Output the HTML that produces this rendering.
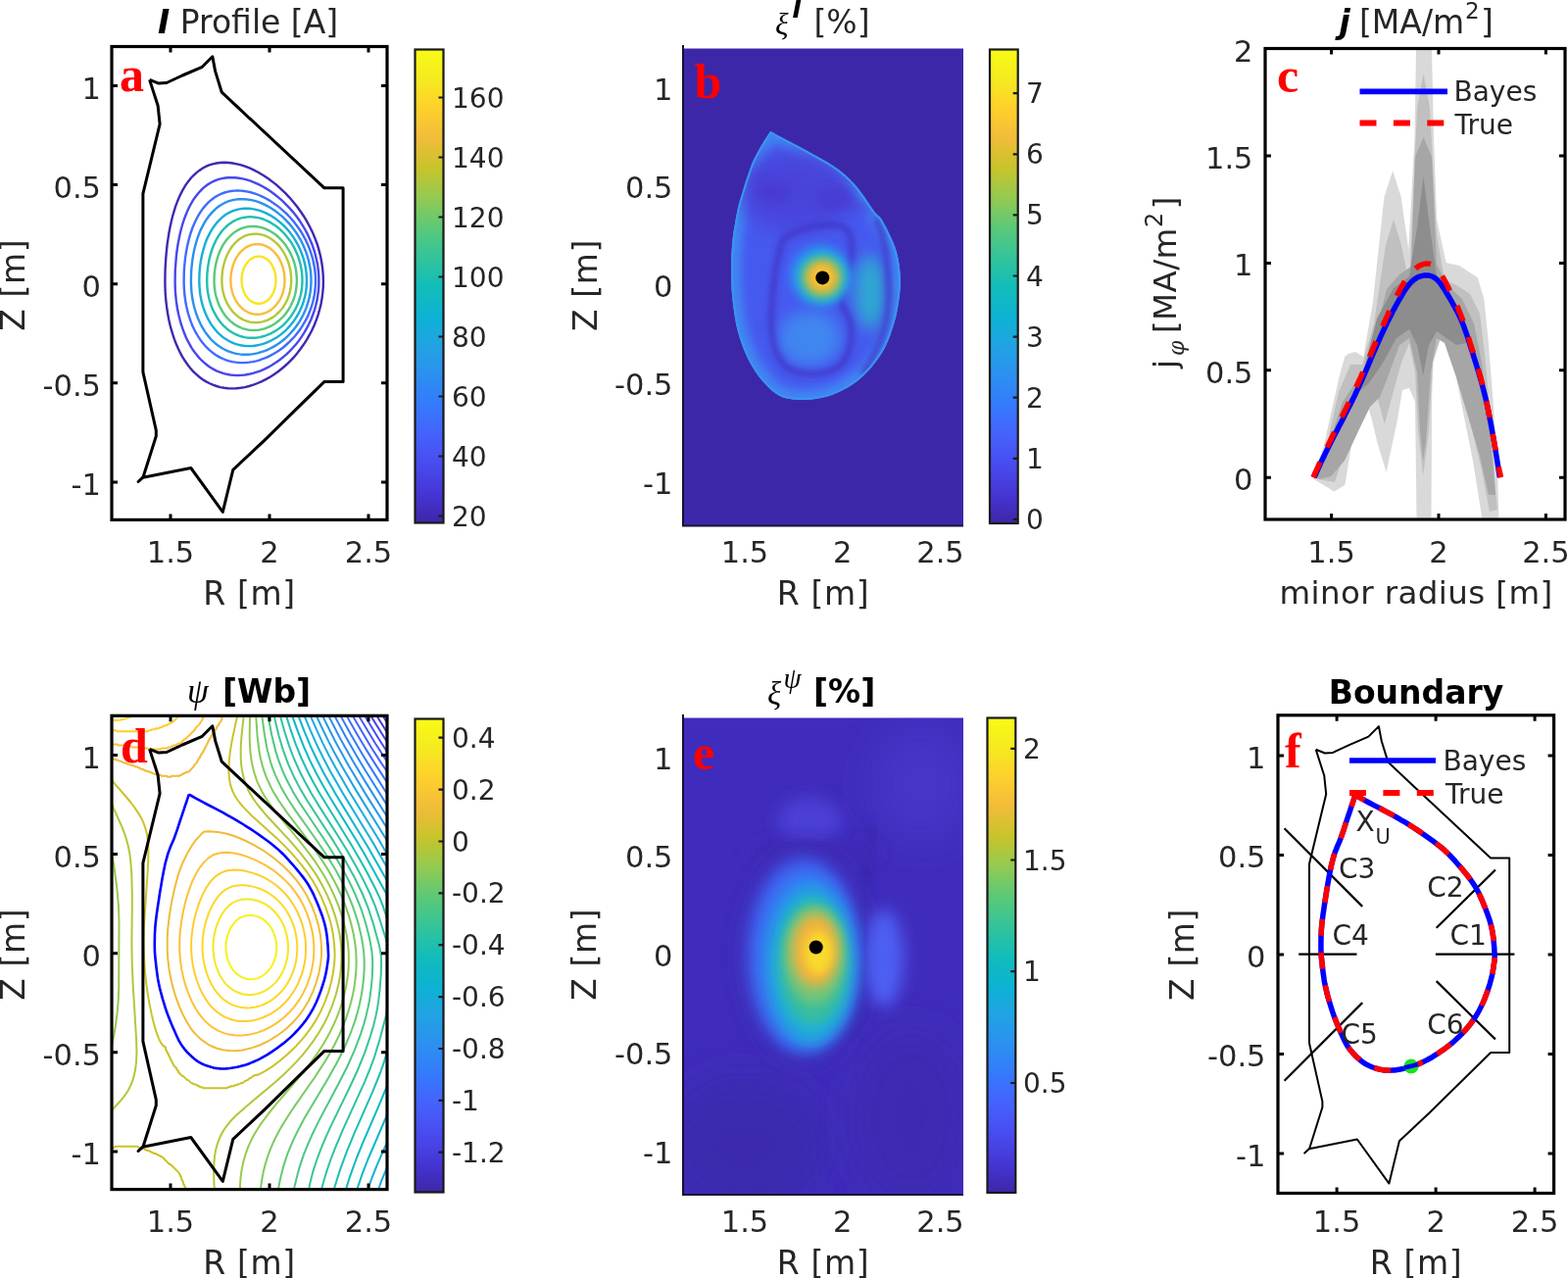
<!DOCTYPE html>
<html><head><meta charset="utf-8"><title>Figure</title>
<style>html,body{margin:0;padding:0;background:#fff;width:1600px;height:1304px;overflow:hidden}svg{display:block}</style>
</head><body>
<svg width="1600" height="1304" viewBox="0 0 1600 1304"><defs><linearGradient id="cba" x1="0" y1="1" x2="0" y2="0"><stop offset="0.0000" stop-color="#3e26a8"/><stop offset="0.0625" stop-color="#4536d5"/><stop offset="0.1250" stop-color="#484cef"/><stop offset="0.1875" stop-color="#4562fc"/><stop offset="0.2500" stop-color="#347afd"/><stop offset="0.3125" stop-color="#2c90f0"/><stop offset="0.3750" stop-color="#21a3e3"/><stop offset="0.4375" stop-color="#0cb3d3"/><stop offset="0.5000" stop-color="#12bdb9"/><stop offset="0.5625" stop-color="#34c499"/><stop offset="0.6250" stop-color="#5cc977"/><stop offset="0.6875" stop-color="#94ca51"/><stop offset="0.7500" stop-color="#c8c42a"/><stop offset="0.8125" stop-color="#f1bc3a"/><stop offset="0.8750" stop-color="#fed02c"/><stop offset="0.9375" stop-color="#f5ea20"/><stop offset="1.0000" stop-color="#f9fb15"/></linearGradient><clipPath id="clipd"><rect x="114" y="730.3" width="281" height="483.3"/></clipPath><linearGradient id="cbd" x1="0" y1="1" x2="0" y2="0"><stop offset="0.0000" stop-color="#3e26a8"/><stop offset="0.0625" stop-color="#4536d5"/><stop offset="0.1250" stop-color="#484cef"/><stop offset="0.1875" stop-color="#4562fc"/><stop offset="0.2500" stop-color="#347afd"/><stop offset="0.3125" stop-color="#2c90f0"/><stop offset="0.3750" stop-color="#21a3e3"/><stop offset="0.4375" stop-color="#0cb3d3"/><stop offset="0.5000" stop-color="#12bdb9"/><stop offset="0.5625" stop-color="#34c499"/><stop offset="0.6250" stop-color="#5cc977"/><stop offset="0.6875" stop-color="#94ca51"/><stop offset="0.7500" stop-color="#c8c42a"/><stop offset="0.8125" stop-color="#f1bc3a"/><stop offset="0.8750" stop-color="#fed02c"/><stop offset="0.9375" stop-color="#f5ea20"/><stop offset="1.0000" stop-color="#f9fb15"/></linearGradient><clipPath id="clipb"><path d="M786.2,133.8 L786.6,134.0 L786.8,134.2 L787.5,134.7 L789.1,135.6 L792.5,137.5 L798.2,140.5 L805.9,144.6 L814.4,149.1 L822.8,153.6 L830.0,157.5 L835.9,160.8 L841.2,163.7 L846.0,166.6 L850.6,169.4 L855.0,172.5 L859.1,175.7 L863.0,178.9 L866.5,182.2 L870.1,185.9 L873.8,190.0 L877.7,195.0 L881.9,200.8 L885.9,206.8 L889.5,212.1 L892.5,216.2 L894.5,218.6 L895.8,219.7 L896.7,220.2 L897.5,220.9 L898.8,222.5 L900.4,225.1 L902.1,228.2 L904.0,231.6 L905.8,235.2 L907.5,238.8 L909.1,242.3 L910.8,245.8 L912.3,249.5 L913.8,253.4 L915.0,257.5 L916.1,261.9 L917.0,266.6 L917.7,271.5 L918.3,276.3 L918.7,281.1 L918.9,285.6 L918.8,290.1 L918.6,294.5 L918.2,299.1 L917.6,304.0 L916.8,309.2 L915.9,314.7 L914.8,320.4 L913.4,326.1 L911.8,331.7 L910.0,337.3 L908.1,342.9 L905.8,348.5 L903.3,354.0 L900.3,359.4 L896.8,364.8 L892.9,370.1 L888.7,375.4 L884.2,380.3 L879.6,384.7 L874.9,388.7 L869.9,392.2 L864.8,395.5 L859.6,398.3 L854.3,400.8 L848.9,402.9 L843.4,404.7 L837.9,406.0 L832.3,407.1 L826.7,407.7 L821.0,408.0 L815.2,408.0 L809.4,407.6 L803.9,406.7 L799.0,405.4 L794.7,403.5 L790.9,401.1 L787.3,398.3 L784.0,395.1 L780.6,391.6 L777.2,387.7 L773.8,383.4 L770.5,378.7 L767.4,373.8 L764.5,368.6 L761.8,363.1 L759.3,357.3 L757.0,351.3 L754.9,345.0 L753.0,338.6 L751.4,332.0 L750.1,325.1 L749.0,318.1 L748.1,311.1 L747.3,304.1 L746.7,297.0 L746.4,289.8 L746.2,282.7 L746.1,275.9 L746.1,269.6 L746.2,263.9 L746.4,258.6 L746.8,253.6 L747.1,249.1 L747.5,245.0 L747.9,241.5 L748.2,238.7 L748.6,236.1 L749.1,233.5 L749.6,230.5 L750.2,227.0 L750.8,223.3 L751.5,219.4 L752.2,215.6 L753.0,212.0 L753.8,208.8 L754.5,206.0 L755.4,203.1 L756.4,199.9 L757.6,196.0 L759.1,191.1 L760.9,185.3 L762.9,179.3 L764.9,173.4 L766.8,168.3 L768.6,164.0 L770.4,160.2 L772.2,156.7 L774.1,153.4 L776.0,150.0 L778.1,146.4 L780.5,142.6 L782.8,139.0 L784.8,135.9 L786.2,133.8Z"/></clipPath><linearGradient id="cbb" x1="0" y1="1" x2="0" y2="0"><stop offset="0.0000" stop-color="#3e26a8"/><stop offset="0.0625" stop-color="#4536d5"/><stop offset="0.1250" stop-color="#484cef"/><stop offset="0.1875" stop-color="#4562fc"/><stop offset="0.2500" stop-color="#347afd"/><stop offset="0.3125" stop-color="#2c90f0"/><stop offset="0.3750" stop-color="#21a3e3"/><stop offset="0.4375" stop-color="#0cb3d3"/><stop offset="0.5000" stop-color="#12bdb9"/><stop offset="0.5625" stop-color="#34c499"/><stop offset="0.6250" stop-color="#5cc977"/><stop offset="0.6875" stop-color="#94ca51"/><stop offset="0.7500" stop-color="#c8c42a"/><stop offset="0.8125" stop-color="#f1bc3a"/><stop offset="0.8750" stop-color="#fed02c"/><stop offset="0.9375" stop-color="#f5ea20"/><stop offset="1.0000" stop-color="#f9fb15"/></linearGradient><clipPath id="clipe"><rect x="696.5" y="732.5" width="286.5" height="486.3"/></clipPath><filter id="bl3" x="-60%" y="-60%" width="220%" height="220%"><feGaussianBlur stdDeviation="3"/></filter><filter id="bl4" x="-60%" y="-60%" width="220%" height="220%"><feGaussianBlur stdDeviation="4"/></filter><filter id="bl5" x="-60%" y="-60%" width="220%" height="220%"><feGaussianBlur stdDeviation="5"/></filter><filter id="bl6" x="-60%" y="-60%" width="220%" height="220%"><feGaussianBlur stdDeviation="6"/></filter><filter id="bl8" x="-60%" y="-60%" width="220%" height="220%"><feGaussianBlur stdDeviation="8"/></filter><filter id="bl10" x="-60%" y="-60%" width="220%" height="220%"><feGaussianBlur stdDeviation="10"/></filter><filter id="bl14" x="-60%" y="-60%" width="220%" height="220%"><feGaussianBlur stdDeviation="14"/></filter><filter id="bl20" x="-60%" y="-60%" width="220%" height="220%"><feGaussianBlur stdDeviation="20"/></filter><linearGradient id="cbe" x1="0" y1="1" x2="0" y2="0"><stop offset="0.0000" stop-color="#3e26a8"/><stop offset="0.0625" stop-color="#4536d5"/><stop offset="0.1250" stop-color="#484cef"/><stop offset="0.1875" stop-color="#4562fc"/><stop offset="0.2500" stop-color="#347afd"/><stop offset="0.3125" stop-color="#2c90f0"/><stop offset="0.3750" stop-color="#21a3e3"/><stop offset="0.4375" stop-color="#0cb3d3"/><stop offset="0.5000" stop-color="#12bdb9"/><stop offset="0.5625" stop-color="#34c499"/><stop offset="0.6250" stop-color="#5cc977"/><stop offset="0.6875" stop-color="#94ca51"/><stop offset="0.7500" stop-color="#c8c42a"/><stop offset="0.8125" stop-color="#f1bc3a"/><stop offset="0.8750" stop-color="#fed02c"/><stop offset="0.9375" stop-color="#f5ea20"/><stop offset="1.0000" stop-color="#f9fb15"/></linearGradient><clipPath id="clipc"><rect x="1291" y="49.5" width="306" height="480.5"/></clipPath></defs><rect width="1600" height="1304" fill="#fff"/><path d="M329.9,287.0 L329.7,280.7 L329.2,274.3 L328.3,268.0 L327.1,261.8 L325.6,255.6 L323.8,249.5 L321.6,243.6 L319.2,237.7 L316.4,232.0 L313.4,226.4 L310.2,221.0 L306.7,215.8 L303.1,210.7 L299.2,205.9 L295.2,201.3 L291.0,196.9 L286.7,192.8 L282.4,188.9 L277.9,185.4 L273.4,182.0 L268.8,179.0 L264.2,176.3 L259.7,173.9 L255.1,171.7 L250.6,169.9 L246.1,168.4 L241.7,167.3 L237.4,166.5 L233.1,166.0 L229.0,165.8 L224.9,166.0 L221.0,166.5 L217.2,167.3 L213.5,168.4 L210.0,169.9 L206.6,171.7 L203.4,173.9 L200.3,176.3 L197.4,179.0 L194.6,182.0 L191.9,185.4 L189.4,188.9 L187.1,192.8 L184.9,196.9 L182.8,201.3 L180.9,205.9 L179.1,210.7 L177.5,215.8 L176.0,221.0 L174.7,226.4 L173.5,232.0 L172.4,237.7 L171.5,243.6 L170.6,249.5 L170.0,255.6 L169.4,261.8 L169.0,268.0 L168.6,274.3 L168.5,280.7 L168.4,287.0 L168.5,292.7 L168.7,298.4 L169.1,304.1 L169.7,309.7 L170.4,315.3 L171.3,320.8 L172.3,326.2 L173.5,331.5 L174.9,336.7 L176.4,341.7 L178.1,346.6 L179.9,351.3 L181.9,355.8 L184.0,360.2 L186.3,364.4 L188.8,368.3 L191.4,372.0 L194.1,375.5 L197.0,378.8 L200.0,381.7 L203.2,384.5 L206.5,386.9 L209.9,389.1 L213.5,391.0 L217.2,392.7 L221.0,394.0 L224.8,395.1 L228.8,395.8 L232.9,396.3 L237.0,396.4 L241.2,396.3 L245.5,395.8 L249.8,395.1 L254.2,394.0 L258.5,392.7 L262.9,391.0 L267.2,389.1 L271.6,386.9 L275.9,384.5 L280.1,381.7 L284.3,378.8 L288.3,375.5 L292.3,372.0 L296.1,368.3 L299.9,364.4 L303.4,360.2 L306.8,355.8 L310.0,351.3 L313.0,346.6 L315.8,341.7 L318.4,336.7 L320.8,331.5 L322.9,326.2 L324.7,320.8 L326.3,315.3 L327.6,309.7 L328.6,304.1 L329.3,298.4 L329.8,292.7Z" fill="none" stroke="#3f29b1" stroke-width="2.4"/>
<path d="M325.4,286.9 L325.3,281.4 L324.8,275.8 L324.1,270.3 L323.0,264.9 L321.7,259.5 L320.1,254.2 L318.3,249.0 L316.1,243.9 L313.8,238.9 L311.2,234.0 L308.4,229.3 L305.4,224.7 L302.2,220.3 L298.8,216.1 L295.3,212.1 L291.6,208.3 L287.9,204.7 L284.0,201.3 L280.1,198.2 L276.1,195.3 L272.0,192.6 L267.9,190.2 L263.9,188.1 L259.8,186.3 L255.7,184.7 L251.7,183.4 L247.7,182.4 L243.7,181.7 L239.9,181.2 L236.1,181.1 L232.4,181.2 L228.7,181.7 L225.2,182.4 L221.8,183.4 L218.6,184.7 L215.4,186.3 L212.3,188.1 L209.4,190.2 L206.6,192.6 L204.0,195.3 L201.5,198.2 L199.1,201.3 L196.8,204.7 L194.7,208.3 L192.7,212.1 L190.9,216.1 L189.2,220.3 L187.6,224.7 L186.1,229.3 L184.8,234.0 L183.6,238.9 L182.6,243.9 L181.6,249.0 L180.8,254.2 L180.1,259.5 L179.6,264.9 L179.2,270.3 L178.8,275.8 L178.7,281.4 L178.6,286.9 L178.7,291.9 L178.9,296.9 L179.3,301.9 L179.8,306.9 L180.5,311.8 L181.3,316.6 L182.3,321.3 L183.5,326.0 L184.7,330.5 L186.2,334.9 L187.8,339.2 L189.5,343.4 L191.4,347.4 L193.4,351.2 L195.5,354.8 L197.8,358.3 L200.3,361.6 L202.8,364.6 L205.5,367.5 L208.4,370.1 L211.3,372.5 L214.4,374.7 L217.6,376.6 L220.8,378.3 L224.2,379.7 L227.7,380.9 L231.3,381.8 L234.9,382.5 L238.7,382.9 L242.4,383.0 L246.3,382.9 L250.2,382.5 L254.1,381.8 L258.0,380.9 L261.9,379.7 L265.9,378.3 L269.8,376.6 L273.7,374.7 L277.5,372.5 L281.3,370.1 L285.0,367.5 L288.6,364.6 L292.2,361.6 L295.6,358.3 L298.9,354.8 L302.1,351.2 L305.1,347.4 L307.9,343.4 L310.6,339.2 L313.0,334.9 L315.3,330.5 L317.4,326.0 L319.2,321.3 L320.8,316.6 L322.2,311.8 L323.4,306.9 L324.2,301.9 L324.9,296.9 L325.3,291.9Z" fill="none" stroke="#4848ec" stroke-width="2.4"/>
<path d="M322.0,286.8 L321.9,281.9 L321.5,277.1 L320.8,272.3 L319.9,267.6 L318.8,262.9 L317.4,258.3 L315.8,253.7 L313.9,249.2 L311.9,244.9 L309.6,240.6 L307.2,236.5 L304.5,232.5 L301.7,228.7 L298.8,225.0 L295.7,221.5 L292.5,218.2 L289.1,215.1 L285.7,212.1 L282.2,209.4 L278.6,206.9 L275.0,204.6 L271.4,202.5 L267.7,200.6 L264.0,199.0 L260.3,197.6 L256.6,196.5 L253.0,195.6 L249.4,195.0 L245.9,194.6 L242.4,194.5 L239.0,194.6 L235.6,195.0 L232.3,195.6 L229.2,196.5 L226.1,197.6 L223.1,199.0 L220.2,200.6 L217.5,202.5 L214.8,204.6 L212.3,206.9 L209.9,209.4 L207.6,212.1 L205.4,215.1 L203.4,218.2 L201.5,221.5 L199.7,225.0 L198.0,228.7 L196.4,232.5 L195.0,236.5 L193.7,240.6 L192.6,244.9 L191.5,249.2 L190.6,253.7 L189.8,258.3 L189.1,262.9 L188.6,267.6 L188.1,272.3 L187.8,277.1 L187.7,281.9 L187.6,286.8 L187.7,291.1 L187.9,295.5 L188.3,299.8 L188.8,304.1 L189.4,308.3 L190.2,312.5 L191.2,316.6 L192.2,320.7 L193.5,324.6 L194.8,328.4 L196.3,332.2 L198.0,335.8 L199.7,339.2 L201.7,342.5 L203.7,345.7 L205.9,348.7 L208.2,351.5 L210.6,354.2 L213.1,356.7 L215.8,358.9 L218.5,361.0 L221.4,362.9 L224.3,364.6 L227.4,366.0 L230.6,367.3 L233.8,368.3 L237.1,369.1 L240.4,369.6 L243.9,370.0 L247.3,370.1 L250.9,370.0 L254.4,369.6 L258.0,369.1 L261.6,368.3 L265.1,367.3 L268.7,366.0 L272.3,364.6 L275.8,362.9 L279.2,361.0 L282.6,358.9 L286.0,356.7 L289.3,354.2 L292.4,351.5 L295.5,348.7 L298.4,345.7 L301.3,342.5 L303.9,339.2 L306.5,335.8 L308.8,332.2 L311.0,328.4 L313.1,324.6 L314.9,320.7 L316.5,316.6 L318.0,312.5 L319.2,308.3 L320.2,304.1 L321.0,299.8 L321.5,295.5 L321.9,291.1Z" fill="none" stroke="#406cfe" stroke-width="2.4"/>
<path d="M317.5,286.7 L317.4,282.3 L317.1,277.9 L316.5,273.6 L315.7,269.3 L314.7,265.0 L313.5,260.8 L312.1,256.7 L310.5,252.7 L308.7,248.7 L306.8,244.9 L304.6,241.2 L302.3,237.5 L299.9,234.1 L297.3,230.7 L294.6,227.6 L291.7,224.6 L288.8,221.7 L285.8,219.1 L282.7,216.6 L279.5,214.3 L276.3,212.2 L273.0,210.3 L269.7,208.7 L266.4,207.2 L263.1,205.9 L259.8,204.9 L256.5,204.1 L253.2,203.6 L250.0,203.2 L246.8,203.1 L243.6,203.2 L240.5,203.6 L237.5,204.1 L234.6,204.9 L231.7,205.9 L228.9,207.2 L226.2,208.7 L223.6,210.3 L221.1,212.2 L218.8,214.3 L216.5,216.6 L214.3,219.1 L212.2,221.7 L210.2,224.6 L208.4,227.6 L206.7,230.7 L205.0,234.1 L203.5,237.5 L202.2,241.2 L200.9,244.9 L199.8,248.7 L198.7,252.7 L197.8,256.7 L197.1,260.8 L196.4,265.0 L195.9,269.3 L195.4,273.6 L195.1,277.9 L195.0,282.3 L194.9,286.7 L195.0,290.6 L195.2,294.5 L195.5,298.4 L196.0,302.3 L196.6,306.1 L197.4,309.9 L198.3,313.6 L199.3,317.2 L200.5,320.8 L201.8,324.2 L203.2,327.6 L204.7,330.8 L206.4,333.9 L208.2,336.9 L210.1,339.8 L212.2,342.5 L214.3,345.1 L216.6,347.5 L218.9,349.7 L221.4,351.7 L224.0,353.6 L226.6,355.3 L229.4,356.8 L232.2,358.1 L235.1,359.2 L238.1,360.2 L241.1,360.9 L244.2,361.4 L247.4,361.7 L250.5,361.8 L253.8,361.7 L257.0,361.4 L260.2,360.9 L263.5,360.2 L266.7,359.2 L270.0,358.1 L273.2,356.8 L276.3,355.3 L279.4,353.6 L282.5,351.7 L285.5,349.7 L288.4,347.5 L291.3,345.1 L294.0,342.5 L296.6,339.8 L299.1,336.9 L301.5,333.9 L303.8,330.8 L305.9,327.6 L307.8,324.2 L309.6,320.8 L311.2,317.2 L312.7,313.6 L313.9,309.9 L315.0,306.1 L315.9,302.3 L316.6,298.4 L317.1,294.5 L317.4,290.6Z" fill="none" stroke="#2b91ef" stroke-width="2.4"/>
<path d="M313.0,286.6 L312.9,282.7 L312.6,278.8 L312.1,275.0 L311.5,271.2 L310.6,267.4 L309.6,263.7 L308.4,260.1 L307.1,256.5 L305.5,253.0 L303.9,249.6 L302.0,246.3 L300.1,243.1 L298.0,240.1 L295.7,237.1 L293.4,234.3 L291.0,231.7 L288.4,229.2 L285.8,226.8 L283.1,224.6 L280.3,222.6 L277.5,220.7 L274.7,219.1 L271.8,217.6 L268.9,216.3 L265.9,215.2 L263.0,214.3 L260.1,213.6 L257.1,213.1 L254.2,212.8 L251.4,212.7 L248.5,212.8 L245.8,213.1 L243.0,213.6 L240.3,214.3 L237.7,215.2 L235.2,216.3 L232.7,217.6 L230.3,219.1 L228.0,220.7 L225.8,222.6 L223.7,224.6 L221.6,226.8 L219.7,229.2 L217.9,231.7 L216.1,234.3 L214.5,237.1 L213.0,240.1 L211.5,243.1 L210.2,246.3 L209.0,249.6 L208.0,253.0 L207.0,256.5 L206.1,260.1 L205.4,263.7 L204.7,267.4 L204.2,271.2 L203.8,275.0 L203.5,278.8 L203.4,282.7 L203.3,286.6 L203.4,290.0 L203.6,293.5 L203.9,297.0 L204.3,300.4 L204.9,303.8 L205.6,307.1 L206.4,310.4 L207.4,313.6 L208.5,316.8 L209.7,319.8 L211.0,322.8 L212.4,325.7 L214.0,328.4 L215.6,331.1 L217.4,333.6 L219.3,336.0 L221.2,338.3 L223.3,340.4 L225.5,342.4 L227.7,344.2 L230.1,345.8 L232.5,347.3 L235.0,348.7 L237.6,349.8 L240.2,350.8 L242.9,351.6 L245.6,352.3 L248.4,352.7 L251.2,353.0 L254.1,353.1 L257.0,353.0 L259.8,352.7 L262.7,352.3 L265.6,351.6 L268.5,350.8 L271.4,349.8 L274.2,348.7 L277.0,347.3 L279.8,345.8 L282.5,344.2 L285.1,342.4 L287.7,340.4 L290.2,338.3 L292.6,336.0 L294.8,333.6 L297.0,331.1 L299.1,328.4 L301.1,325.7 L302.9,322.8 L304.6,319.8 L306.2,316.8 L307.6,313.6 L308.8,310.4 L309.9,307.1 L310.8,303.8 L311.6,300.4 L312.2,297.0 L312.7,293.5 L312.9,290.0Z" fill="none" stroke="#16afd9" stroke-width="2.4"/>
<path d="M308.5,286.4 L308.4,283.0 L308.2,279.6 L307.8,276.3 L307.2,272.9 L306.5,269.6 L305.7,266.3 L304.7,263.1 L303.5,259.9 L302.2,256.9 L300.8,253.9 L299.2,251.0 L297.6,248.2 L295.8,245.4 L293.9,242.9 L291.9,240.4 L289.8,238.0 L287.6,235.8 L285.4,233.7 L283.0,231.8 L280.6,230.0 L278.2,228.4 L275.7,226.9 L273.2,225.6 L270.7,224.5 L268.1,223.5 L265.5,222.7 L262.9,222.1 L260.4,221.7 L257.8,221.4 L255.3,221.3 L252.7,221.4 L250.2,221.7 L247.8,222.1 L245.4,222.7 L243.0,223.5 L240.7,224.5 L238.5,225.6 L236.3,226.9 L234.2,228.4 L232.2,230.0 L230.2,231.8 L228.3,233.7 L226.5,235.8 L224.8,238.0 L223.2,240.4 L221.7,242.9 L220.3,245.4 L219.0,248.2 L217.7,251.0 L216.6,253.9 L215.6,256.9 L214.7,259.9 L213.9,263.1 L213.2,266.3 L212.6,269.6 L212.1,272.9 L211.7,276.3 L211.4,279.6 L211.3,283.0 L211.2,286.4 L211.3,289.5 L211.4,292.5 L211.7,295.6 L212.1,298.6 L212.7,301.5 L213.3,304.5 L214.1,307.4 L215.0,310.2 L215.9,312.9 L217.0,315.6 L218.2,318.2 L219.6,320.7 L221.0,323.2 L222.5,325.5 L224.1,327.7 L225.8,329.8 L227.6,331.8 L229.5,333.7 L231.4,335.4 L233.5,337.0 L235.6,338.4 L237.8,339.8 L240.0,340.9 L242.3,341.9 L244.7,342.8 L247.1,343.5 L249.6,344.1 L252.0,344.5 L254.6,344.7 L257.1,344.8 L259.6,344.7 L262.2,344.5 L264.8,344.1 L267.3,343.5 L269.8,342.8 L272.4,341.9 L274.9,340.9 L277.3,339.8 L279.7,338.4 L282.1,337.0 L284.4,335.4 L286.6,333.7 L288.8,331.8 L290.9,329.8 L292.8,327.7 L294.7,325.5 L296.5,323.2 L298.2,320.7 L299.8,318.2 L301.3,315.6 L302.6,312.9 L303.8,310.2 L304.9,307.4 L305.8,304.5 L306.7,301.5 L307.3,298.6 L307.8,295.6 L308.2,292.5 L308.4,289.5Z" fill="none" stroke="#21bfaf" stroke-width="2.4"/>
<path d="M302.9,286.3 L302.8,283.4 L302.6,280.5 L302.3,277.7 L301.9,274.8 L301.3,272.0 L300.6,269.2 L299.7,266.5 L298.8,263.8 L297.7,261.2 L296.5,258.6 L295.2,256.1 L293.8,253.8 L292.3,251.4 L290.8,249.2 L289.1,247.1 L287.3,245.1 L285.5,243.3 L283.6,241.5 L281.7,239.8 L279.6,238.3 L277.6,236.9 L275.5,235.7 L273.3,234.6 L271.2,233.6 L269.0,232.8 L266.8,232.1 L264.5,231.6 L262.3,231.2 L260.1,231.0 L257.9,230.9 L255.7,231.0 L253.5,231.2 L251.4,231.6 L249.2,232.1 L247.2,232.8 L245.1,233.6 L243.1,234.6 L241.2,235.7 L239.3,236.9 L237.5,238.3 L235.8,239.8 L234.1,241.5 L232.5,243.3 L230.9,245.1 L229.5,247.1 L228.1,249.2 L226.8,251.4 L225.6,253.8 L224.5,256.1 L223.5,258.6 L222.5,261.2 L221.7,263.8 L221.0,266.5 L220.3,269.2 L219.8,272.0 L219.3,274.8 L219.0,277.7 L218.7,280.5 L218.6,283.4 L218.5,286.3 L218.6,289.0 L218.7,291.6 L219.0,294.3 L219.4,296.9 L219.8,299.4 L220.4,302.0 L221.1,304.5 L221.9,306.9 L222.8,309.3 L223.7,311.7 L224.8,313.9 L226.0,316.1 L227.2,318.2 L228.6,320.2 L230.0,322.2 L231.5,324.0 L233.1,325.7 L234.8,327.3 L236.5,328.8 L238.3,330.2 L240.2,331.5 L242.1,332.6 L244.1,333.6 L246.1,334.5 L248.2,335.3 L250.3,335.9 L252.5,336.4 L254.6,336.7 L256.8,336.9 L259.0,337.0 L261.2,336.9 L263.4,336.7 L265.6,336.4 L267.8,335.9 L270.0,335.3 L272.2,334.5 L274.3,333.6 L276.4,332.6 L278.5,331.5 L280.5,330.2 L282.5,328.8 L284.4,327.3 L286.2,325.7 L288.0,324.0 L289.7,322.2 L291.3,320.2 L292.8,318.2 L294.2,316.1 L295.6,313.9 L296.8,311.7 L297.9,309.3 L299.0,306.9 L299.9,304.5 L300.7,302.0 L301.3,299.4 L301.9,296.9 L302.3,294.3 L302.6,291.6 L302.8,289.0Z" fill="none" stroke="#59c979" stroke-width="2.4"/>
<path d="M297.2,286.2 L297.1,283.7 L297.0,281.2 L296.7,278.8 L296.4,276.3 L295.9,273.9 L295.3,271.5 L294.7,269.2 L293.9,266.9 L293.0,264.6 L292.1,262.4 L291.0,260.3 L289.9,258.2 L288.7,256.3 L287.4,254.4 L286.1,252.5 L284.7,250.8 L283.2,249.2 L281.6,247.7 L280.0,246.3 L278.4,245.0 L276.7,243.8 L275.0,242.7 L273.2,241.8 L271.4,240.9 L269.6,240.2 L267.8,239.6 L265.9,239.2 L264.1,238.9 L262.2,238.7 L260.3,238.6 L258.5,238.7 L256.7,238.9 L254.8,239.2 L253.1,239.6 L251.3,240.2 L249.6,240.9 L247.9,241.8 L246.2,242.7 L244.6,243.8 L243.0,245.0 L241.5,246.3 L240.1,247.7 L238.7,249.2 L237.3,250.8 L236.1,252.5 L234.9,254.4 L233.7,256.3 L232.7,258.2 L231.7,260.3 L230.8,262.4 L230.0,264.6 L229.2,266.9 L228.6,269.2 L228.0,271.5 L227.5,273.9 L227.1,276.3 L226.8,278.8 L226.6,281.2 L226.4,283.7 L226.4,286.2 L226.4,288.5 L226.6,290.7 L226.8,292.9 L227.1,295.1 L227.5,297.3 L228.1,299.5 L228.6,301.6 L229.3,303.7 L230.1,305.7 L230.9,307.7 L231.9,309.6 L232.9,311.4 L233.9,313.2 L235.1,314.9 L236.3,316.5 L237.6,318.1 L239.0,319.5 L240.4,320.9 L241.9,322.2 L243.4,323.4 L245.0,324.4 L246.7,325.4 L248.4,326.3 L250.1,327.0 L251.8,327.6 L253.6,328.2 L255.4,328.6 L257.2,328.9 L259.1,329.0 L260.9,329.1 L262.8,329.0 L264.6,328.9 L266.5,328.6 L268.3,328.2 L270.1,327.6 L271.9,327.0 L273.7,326.3 L275.5,325.4 L277.2,324.4 L278.8,323.4 L280.5,322.2 L282.0,320.9 L283.5,319.5 L285.0,318.1 L286.4,316.5 L287.7,314.9 L289.0,313.2 L290.1,311.4 L291.2,309.6 L292.2,307.7 L293.2,305.7 L294.0,303.7 L294.7,301.6 L295.4,299.5 L295.9,297.3 L296.4,295.1 L296.7,292.9 L297.0,290.7 L297.1,288.5Z" fill="none" stroke="#b3c838" stroke-width="2.4"/>
<path d="M290.5,286.1 L290.5,284.2 L290.3,282.2 L290.1,280.3 L289.9,278.4 L289.5,276.5 L289.1,274.7 L288.6,272.8 L288.0,271.1 L287.4,269.3 L286.7,267.6 L285.9,266.0 L285.1,264.4 L284.2,262.8 L283.2,261.3 L282.2,259.9 L281.1,258.6 L280.0,257.3 L278.8,256.2 L277.6,255.1 L276.4,254.1 L275.1,253.1 L273.7,252.3 L272.4,251.6 L271.0,250.9 L269.6,250.4 L268.2,249.9 L266.8,249.6 L265.3,249.3 L263.9,249.2 L262.5,249.1 L261.0,249.2 L259.6,249.3 L258.2,249.6 L256.8,249.9 L255.4,250.4 L254.0,250.9 L252.6,251.6 L251.3,252.3 L250.1,253.1 L248.8,254.1 L247.6,255.1 L246.4,256.2 L245.3,257.3 L244.2,258.6 L243.2,259.9 L242.3,261.3 L241.3,262.8 L240.5,264.4 L239.7,266.0 L239.0,267.6 L238.3,269.3 L237.7,271.1 L237.2,272.8 L236.7,274.7 L236.3,276.5 L236.0,278.4 L235.7,280.3 L235.5,282.2 L235.4,284.2 L235.4,286.1 L235.4,287.9 L235.5,289.7 L235.7,291.5 L236.0,293.3 L236.3,295.1 L236.7,296.8 L237.2,298.5 L237.7,300.2 L238.3,301.9 L239.0,303.5 L239.8,305.0 L240.6,306.5 L241.4,307.9 L242.3,309.3 L243.3,310.6 L244.4,311.9 L245.4,313.1 L246.6,314.2 L247.7,315.2 L249.0,316.2 L250.2,317.0 L251.5,317.8 L252.8,318.5 L254.2,319.1 L255.5,319.6 L256.9,320.0 L258.4,320.4 L259.8,320.6 L261.2,320.8 L262.7,320.8 L264.1,320.8 L265.5,320.6 L267.0,320.4 L268.4,320.0 L269.8,319.6 L271.2,319.1 L272.6,318.5 L273.9,317.8 L275.2,317.0 L276.5,316.2 L277.7,315.2 L278.9,314.2 L280.1,313.1 L281.2,311.9 L282.3,310.6 L283.3,309.3 L284.2,307.9 L285.1,306.5 L286.0,305.0 L286.7,303.5 L287.4,301.9 L288.1,300.2 L288.6,298.5 L289.1,296.8 L289.5,295.1 L289.9,293.3 L290.2,291.5 L290.3,289.7 L290.5,287.9Z" fill="none" stroke="#f8bd3c" stroke-width="2.4"/>
<path d="M281.5,286.0 L281.5,284.7 L281.4,283.4 L281.3,282.2 L281.1,280.9 L280.9,279.7 L280.6,278.5 L280.3,277.3 L280.0,276.1 L279.6,274.9 L279.2,273.8 L278.7,272.7 L278.2,271.7 L277.6,270.6 L277.0,269.7 L276.4,268.7 L275.7,267.9 L275.0,267.0 L274.3,266.3 L273.6,265.5 L272.8,264.9 L272.0,264.3 L271.1,263.7 L270.3,263.2 L269.4,262.8 L268.6,262.4 L267.7,262.1 L266.8,261.9 L265.9,261.7 L265.0,261.6 L264.1,261.6 L263.1,261.6 L262.2,261.7 L261.3,261.9 L260.4,262.1 L259.5,262.4 L258.7,262.8 L257.8,263.2 L257.0,263.7 L256.1,264.3 L255.3,264.9 L254.5,265.5 L253.8,266.3 L253.1,267.0 L252.4,267.9 L251.7,268.7 L251.1,269.7 L250.5,270.6 L249.9,271.7 L249.4,272.7 L248.9,273.8 L248.5,274.9 L248.1,276.1 L247.8,277.3 L247.5,278.5 L247.2,279.7 L247.0,280.9 L246.8,282.2 L246.7,283.4 L246.6,284.7 L246.6,286.0 L246.6,287.2 L246.7,288.5 L246.8,289.7 L247.0,290.9 L247.2,292.2 L247.5,293.4 L247.8,294.5 L248.1,295.7 L248.5,296.8 L248.9,297.9 L249.4,299.0 L249.9,300.0 L250.5,301.0 L251.1,301.9 L251.7,302.8 L252.4,303.7 L253.1,304.5 L253.8,305.3 L254.5,306.0 L255.3,306.6 L256.1,307.2 L257.0,307.7 L257.8,308.2 L258.7,308.6 L259.5,309.0 L260.4,309.3 L261.3,309.5 L262.2,309.7 L263.1,309.8 L264.1,309.8 L265.0,309.8 L265.9,309.7 L266.8,309.5 L267.7,309.3 L268.6,309.0 L269.4,308.6 L270.3,308.2 L271.1,307.7 L272.0,307.2 L272.8,306.6 L273.6,306.0 L274.3,305.3 L275.0,304.5 L275.7,303.7 L276.4,302.8 L277.0,301.9 L277.6,301.0 L278.2,300.0 L278.7,299.0 L279.2,297.9 L279.6,296.8 L280.0,295.7 L280.3,294.5 L280.6,293.4 L280.9,292.2 L281.1,290.9 L281.3,289.7 L281.4,288.5 L281.5,287.2Z" fill="none" stroke="#f7e522" stroke-width="2.4"/>
<path d="M152.6,81.4 L161.9,85.1 L170.0,84.5 L186.1,77.0 L206.3,68.3 L216.8,57.8 L219.7,72.9 L226.3,94.2 L244.7,111.4 L331.0,191.8 L350.1,191.8 L350.1,389.4 L331.0,389.4 L269.5,449.6 L237.8,479.4 L227.3,522.4 L194.8,477.5 L145.7,487.2 L141.1,491.5 L146.1,486.8 L159.3,445.0 L159.3,439.1 L145.9,379.7 L145.9,197.7 L163.1,126.7 L161.1,107.7 L152.6,81.4" fill="none" stroke="#000" stroke-width="3" stroke-linejoin="round"/>
<rect x="114" y="47.5" width="281" height="482.9" fill="none" stroke="#000" stroke-width="3.2"/>
<path d="M174.0,47.5v6M174.0,530.4v-6M275.0,47.5v6M275.0,530.4v-6M376.0,47.5v6M376.0,530.4v-6M114,491.9h6M395,491.9h-6M114,390.8h6M395,390.8h-6M114,289.7h6M395,289.7h-6M114,188.6h6M395,188.6h-6M114,87.5h6M395,87.5h-6" stroke="#000" stroke-width="3" fill="none"/>
<text x="174.0" y="573.5" font-size="30.5" text-anchor="middle" fill="#262626" font-weight="normal" font-style="normal" font-family="'DejaVu Sans', 'Liberation Sans', sans-serif" >1.5</text>
<text x="275.0" y="573.5" font-size="30.5" text-anchor="middle" fill="#262626" font-weight="normal" font-style="normal" font-family="'DejaVu Sans', 'Liberation Sans', sans-serif" >2</text>
<text x="376.0" y="573.5" font-size="30.5" text-anchor="middle" fill="#262626" font-weight="normal" font-style="normal" font-family="'DejaVu Sans', 'Liberation Sans', sans-serif" >2.5</text>
<text x="103.0" y="100.5" font-size="30.5" text-anchor="end" fill="#262626" font-weight="normal" font-style="normal" font-family="'DejaVu Sans', 'Liberation Sans', sans-serif" >1</text>
<text x="103.0" y="201.6" font-size="30.5" text-anchor="end" fill="#262626" font-weight="normal" font-style="normal" font-family="'DejaVu Sans', 'Liberation Sans', sans-serif" >0.5</text>
<text x="103.0" y="302.7" font-size="30.5" text-anchor="end" fill="#262626" font-weight="normal" font-style="normal" font-family="'DejaVu Sans', 'Liberation Sans', sans-serif" >0</text>
<text x="103.0" y="403.8" font-size="30.5" text-anchor="end" fill="#262626" font-weight="normal" font-style="normal" font-family="'DejaVu Sans', 'Liberation Sans', sans-serif" >-0.5</text>
<text x="103.0" y="504.9" font-size="30.5" text-anchor="end" fill="#262626" font-weight="normal" font-style="normal" font-family="'DejaVu Sans', 'Liberation Sans', sans-serif" >-1</text>
<text x="254.5" y="617.0" font-size="33" text-anchor="middle" fill="#262626" font-weight="normal" font-style="normal" font-family="'DejaVu Sans', 'Liberation Sans', sans-serif" letter-spacing="0.6">R [m]</text>
<text x="25.3" y="290.7" font-size="33" text-anchor="middle" fill="#262626" font-weight="normal" font-style="normal" font-family="'DejaVu Sans', 'Liberation Sans', sans-serif" letter-spacing="0.6" transform="rotate(-90 25.3 290.7)">Z [m]</text>
<text x="161" y="33.75" font-size="33" font-family="'DejaVu Sans', 'Liberation Sans', sans-serif" fill="#000"><tspan font-weight="bold" font-style="italic">I</tspan><tspan fill="#262626"> Profile [A]</tspan></text>
<text x="122.0" y="93.0" font-size="50" text-anchor="start" fill="#ff0000" font-weight="bold" font-style="normal" font-family="'Liberation Serif', 'DejaVu Serif', serif" >a</text>
<rect x="423.5" y="50.5" width="29.0" height="483.0" fill="url(#cba)" stroke="#1a1a1a" stroke-width="2.2"/>
<path d="M452.5,526.5h-5M452.5,465.5h-5M452.5,404.5h-5M452.5,343.5h-5M452.5,282.5h-5M452.5,221.5h-5M452.5,160.5h-5M452.5,99.5h-5" stroke="#1a1a1a" stroke-width="2.2"/>
<text x="461.0" y="536.5" font-size="28" text-anchor="start" fill="#262626" font-weight="normal" font-style="normal" font-family="'DejaVu Sans', 'Liberation Sans', sans-serif" >20</text>
<text x="461.0" y="475.5" font-size="28" text-anchor="start" fill="#262626" font-weight="normal" font-style="normal" font-family="'DejaVu Sans', 'Liberation Sans', sans-serif" >40</text>
<text x="461.0" y="414.5" font-size="28" text-anchor="start" fill="#262626" font-weight="normal" font-style="normal" font-family="'DejaVu Sans', 'Liberation Sans', sans-serif" >60</text>
<text x="461.0" y="353.5" font-size="28" text-anchor="start" fill="#262626" font-weight="normal" font-style="normal" font-family="'DejaVu Sans', 'Liberation Sans', sans-serif" >80</text>
<text x="461.0" y="292.5" font-size="28" text-anchor="start" fill="#262626" font-weight="normal" font-style="normal" font-family="'DejaVu Sans', 'Liberation Sans', sans-serif" >100</text>
<text x="461.0" y="231.5" font-size="28" text-anchor="start" fill="#262626" font-weight="normal" font-style="normal" font-family="'DejaVu Sans', 'Liberation Sans', sans-serif" >120</text>
<text x="461.0" y="170.5" font-size="28" text-anchor="start" fill="#262626" font-weight="normal" font-style="normal" font-family="'DejaVu Sans', 'Liberation Sans', sans-serif" >140</text>
<text x="461.0" y="109.5" font-size="28" text-anchor="start" fill="#262626" font-weight="normal" font-style="normal" font-family="'DejaVu Sans', 'Liberation Sans', sans-serif" >160</text>
<g clip-path="url(#clipd)" fill="none" stroke-width="2" stroke-linejoin="round">
<path d="M396.2,739.3 390.5,730.1" stroke="#4330c5"/>
<path d="M396.2,749.2 384.3,730.1" stroke="#4539d9"/>
<path d="M396.2,759.1 378.2,730.1" stroke="#4743e7"/>
<path d="M396.2,769.0 386.1,753.2 372.0,730.1" stroke="#484df1"/>
<path d="M396.2,779.0 383.1,758.7 365.9,730.1" stroke="#4758f8"/>
<path d="M396.2,788.9 389.1,778.6 380.0,764.5 370.3,748.3 359.7,730.1" stroke="#4562fc"/>
<path d="M396.2,800.3 382.1,778.4 374.0,765.4 364.4,749.3 353.5,730.1" stroke="#3f6dfe"/>
<path d="M396.2,812.0 376.5,780.6 368.5,767.5 357.9,749.3 347.4,730.1" stroke="#3579fd"/>
<path d="M396.2,823.6 373.2,786.7 363.9,771.3 352.8,751.7 341.2,730.1" stroke="#2e84f9"/>
<path d="M396.2,835.3 372.0,796.4 359.5,775.6 347.0,753.3 335.1,730.1" stroke="#2c8ef2"/>
<path d="M396.2,847.0 373.5,810.9 355.3,780.6 342.0,756.3 328.9,730.1" stroke="#2797eb"/>
<path d="M395.5,1215.3 396.2,1213.5M396.2,860.0 391.7,852.4 363.6,806.9 349.3,782.6 342.1,769.5 335.6,757.1 329.3,744.2 322.7,730.1" stroke="#23a0e5"/>
<path d="M385.5,1215.3 389.5,1204.2 396.2,1188.3M396.2,873.6 386.4,856.4 356.6,807.9 342.7,783.8 336.0,771.5 329.4,758.4 323.3,745.2 316.6,730.1" stroke="#1da9e0"/>
<path d="M374.6,1215.3 379.8,1201.2 384.6,1189.1 390.3,1175.9 396.2,1163.1M396.2,887.3 381.0,860.5 349.6,808.9 336.3,785.7 329.4,772.5 323.0,759.4 316.7,745.2 310.4,730.1" stroke="#13b0d7"/>
<path d="M363.7,1215.3 369.2,1199.2 375.0,1184.0 396.2,1134.8M396.2,900.9 375.0,863.5 343.0,810.9 330.3,788.7 323.1,774.5 316.9,761.4 310.5,746.2 304.3,730.1" stroke="#04b6cc"/>
<path d="M352.8,1215.3 354.0,1210.3 356.8,1201.2 364.1,1181.0 370.3,1165.8 386.5,1128.4 396.2,1105.0M396.2,916.5 394.3,912.0 371.4,870.6 361.2,853.4 335.7,812.0 329.2,800.8 323.1,789.7 316.1,775.6 309.8,761.4 304.2,747.2 298.1,730.1" stroke="#06bbc0"/>
<path d="M340.2,1215.3 346.8,1194.1 353.9,1174.9 361.0,1157.7 380.0,1114.4 387.9,1095.0 391.8,1083.9 396.2,1068.2M396.2,940.8 391.0,925.2 387.5,916.1 382.7,906.0 374.3,889.8 366.9,876.4 358.8,862.5 326.4,809.9 319.5,797.8 313.2,785.7 307.5,773.5 302.1,760.4 297.1,746.2 292.0,730.1" stroke="#1cbfb3"/>
<path d="M327.5,1215.3 330.9,1203.2 334.0,1193.1 337.5,1183.0 341.8,1171.9 349.9,1152.7 372.0,1104.1 377.4,1091.0 382.1,1078.3 388.1,1058.6 394.1,1035.4 395.0,1029.3 396.2,1013.9M396.2,965.1 393.6,957.5 386.2,934.3 382.7,924.2 377.6,912.0 370.8,897.9 362.7,882.7 353.8,867.2 344.7,852.5 326.0,823.1 318.0,809.9 311.2,797.8 305.1,785.7 299.7,773.5 294.8,760.4 290.3,746.2 285.8,730.1" stroke="#2dc2a4"/>
<path d="M314.9,1215.3 316.1,1208.3 319.2,1196.1 323.1,1184.0 327.6,1171.9 332.3,1160.7 337.3,1149.6 356.8,1109.5 364.9,1092.0 372.0,1074.6 378.1,1056.6 381.1,1046.5 383.3,1037.4 385.0,1029.3 386.2,1021.2 387.6,1009.1 388.7,994.9 389.1,983.8 388.9,975.7 388.2,970.7 386.9,964.6 380.9,942.4 375.6,926.2 369.8,912.0 361.6,894.9 351.5,876.7 340.7,858.9 313.5,817.0 306.4,804.9 300.5,793.8 294.1,779.6 288.9,765.4 284.4,750.3 279.6,730.1" stroke="#38c594"/>
<path d="M299.4,1215.3 303.1,1200.2 306.2,1189.1 310.0,1177.9 314.9,1165.8 319.5,1155.7 324.9,1144.6 345.7,1105.3 354.0,1089.0 361.9,1071.3 368.2,1054.6 371.1,1045.5 373.6,1036.4 375.7,1027.3 377.4,1018.2 378.7,1008.1 379.8,997.0 380.2,986.9 380.1,978.8 379.5,971.7 378.4,964.6 376.8,956.5 374.6,947.4 372.0,938.3 369.4,930.2 366.4,922.1 363.1,914.1 359.0,905.0 354.5,895.9 349.6,886.8 344.3,877.7 333.5,860.5 305.7,819.0 298.4,806.9 292.6,795.8 289.3,788.7 286.4,781.6 283.8,774.5 281.3,766.5 277.3,750.3 273.5,730.1" stroke="#49c884"/>
<path d="M284.1,1215.3 284.4,1211.3 285.7,1204.2 289.2,1190.1 293.5,1176.9 299.0,1163.8 304.4,1152.7 310.9,1140.5 334.6,1100.8 343.7,1084.5 348.1,1075.8 352.5,1066.7 355.9,1058.6 359.1,1050.5 362.3,1041.4 364.9,1032.6 367.0,1024.3 368.8,1015.2 370.2,1006.1 371.2,997.0 371.7,987.9 371.7,979.8 371.2,971.7 370.0,962.6 368.3,953.5 365.9,943.4 363.2,934.3 359.7,924.2 356.1,915.1 351.5,905.0 347.5,896.9 343.1,888.8 333.3,872.6 323.5,858.0 301.6,827.1 293.6,815.0 286.6,802.9 280.9,790.7 278.5,784.7 276.1,777.6 272.6,764.4 270.0,750.2 267.3,730.1" stroke="#61ca74"/>
<path d="M265.9,1215.3 266.3,1210.3 267.5,1202.2 268.9,1195.1 270.7,1188.0 272.8,1181.0 275.4,1173.9 278.3,1166.8 281.2,1160.7 286.6,1150.6 294.1,1138.5 301.5,1127.4 321.5,1098.8 332.4,1081.9 337.1,1073.8 341.7,1065.3 345.7,1057.1 349.5,1048.5 352.8,1040.1 355.7,1031.3 358.0,1023.2 360.2,1014.2 361.8,1005.1 362.8,997.0 363.5,987.9 363.6,979.8 363.2,970.7 362.2,961.6 360.6,952.5 358.5,943.4 355.6,933.3 352.5,924.2 348.4,914.1 344.2,905.0 340.0,896.9 335.6,889.0 330.5,880.8 325.5,873.1 314.4,857.5 292.9,829.1 284.5,817.0 280.7,810.9 277.3,804.9 272.1,793.8 269.8,787.7 267.6,780.6 265.8,773.5 264.5,766.5 262.6,751.3 261.2,730.1" stroke="#7bcb62"/>
<path d="M245.1,1215.3 244.9,1209.3 245.6,1201.2 246.7,1193.1 248.5,1185.0 250.5,1177.9 253.0,1170.9 256.1,1163.8 259.3,1157.7 265.6,1147.6 273.8,1136.5 282.0,1126.4 305.3,1099.2 312.4,1090.4 318.4,1082.4 324.5,1073.8 330.3,1064.7 335.5,1055.6 339.6,1047.3 343.2,1039.4 346.3,1031.3 349.0,1023.2 351.2,1015.2 353.2,1006.1 354.6,998.0 355.5,989.9 355.9,981.8 355.8,972.7 355.0,962.6 353.6,953.5 351.4,943.4 348.8,934.3 345.4,924.2 341.2,914.1 336.6,904.4 332.6,896.8 327.8,888.8 322.6,880.7 316.9,872.6 305.3,857.6 282.7,830.1 274.4,819.0 270.4,813.0 267.5,807.9 264.4,801.8 262.2,796.8 260.1,790.7 258.1,783.6 256.7,776.6 255.7,769.5 255.0,761.4 254.7,753.3 255.0,730.1M113.4,868.8 114.3,871.6 116.0,881.7 119.2,905.0 121.0,925.2 121.5,940.3 121.2,1007.1 120.8,1019.2 119.6,1033.4 117.9,1046.5 116.0,1057.6 113.4,1069.8" stroke="#96ca4e"/>
<path d="M219.0,1215.3 218.4,1207.3 218.1,1196.1 218.4,1187.0 219.0,1180.0 220.0,1173.9 221.6,1167.8 223.8,1161.8 226.2,1156.7 229.3,1151.6 232.3,1147.6 236.6,1142.5 241.6,1137.5 250.7,1129.4 281.1,1104.0 289.1,1096.8 296.2,1089.9 302.3,1083.6 308.3,1076.8 314.4,1069.4 319.4,1062.6 325.5,1053.5 330.7,1044.5 335.2,1035.4 339.3,1025.3 342.7,1015.1 345.5,1004.0 347.3,993.9 348.3,983.8 348.6,974.7 348.1,964.6 346.8,954.5 344.7,944.4 341.9,934.3 338.4,924.2 334.2,914.1 329.2,904.0 324.7,895.9 320.2,888.8 314.4,880.6 307.3,871.4 295.2,857.1 271.1,831.2 262.7,821.0 259.1,816.0 255.9,810.9 253.2,805.9 251.0,800.8 248.9,794.8 247.3,787.7 246.2,780.6 245.7,772.5 245.7,763.4 246.2,754.3 247.3,743.2 248.8,730.1M113.4,818.4 116.1,825.1 124.3,843.3 128.1,853.4 129.9,859.5 131.3,865.5 132.4,871.6 133.3,878.7 134.3,892.8 134.8,910.0 134.8,927.2 134.4,961.6 134.7,981.8 135.7,1005.1 139.1,1060.7 139.5,1073.8 139.0,1083.9 138.0,1092.0 136.1,1100.1 133.6,1106.9 130.4,1113.2 126.5,1118.9 122.5,1123.8 113.4,1133.6" stroke="#b0c83a"/>
<path d="M189.3,1215.3 189.3,1214.3 190.2,1213.3 189.1,1212.3 189.1,1211.3 188.1,1210.3 188.1,1209.3 187.1,1208.3 187.1,1206.2 186.1,1205.2 186.1,1204.2 185.1,1203.2 185.1,1201.2 184.1,1200.2 184.1,1199.2 183.1,1198.2 183.1,1197.1 174.0,1188.0 173.0,1188.0 164.9,1180.0 163.9,1180.0 162.9,1178.9 161.9,1178.9 160.9,1177.9 159.9,1177.9 158.9,1176.9 156.8,1176.9 155.8,1175.9 154.8,1175.9 153.8,1174.9 152.8,1174.9 151.8,1173.9 149.8,1173.9 148.8,1172.9 147.7,1172.9 146.7,1171.9 144.7,1171.9 143.7,1170.9 141.7,1170.9 140.7,1169.8 117.4,1169.8 116.4,1170.9 115.4,1170.9 113.4,1171.9M113.4,794.4 115.4,797.6 117.4,800.2 127.8,812.0 133.6,819.0 137.4,824.1 140.9,829.1 144.4,835.2 146.7,840.3 148.8,846.3 150.2,852.4 151.3,861.5 151.4,873.6 150.6,890.8 146.9,945.4 146.6,962.6 147.1,978.8 147.9,990.9 149.1,1002.0 150.6,1013.1 152.5,1024.3 154.8,1035.4 157.0,1044.5 159.4,1052.6 162.0,1059.6 163.5,1062.7 165.3,1065.7 166.9,1067.5 167.9,1067.7 169.0,1068.7 169.0,1070.8 170.0,1071.8 170.0,1072.8 171.0,1073.8 171.0,1074.8 172.0,1075.8 172.0,1076.8 173.0,1077.8 173.0,1078.9 174.0,1079.9 174.0,1080.9 175.0,1081.9 175.0,1082.9 176.0,1083.9 176.0,1084.9 177.0,1085.9 177.0,1086.9 180.1,1090.0 180.1,1091.0 182.1,1093.0 182.1,1094.0 186.1,1098.1 187.1,1098.1 191.2,1102.1 192.2,1102.1 195.2,1105.1 196.2,1105.1 197.2,1106.2 199.2,1106.2 200.3,1107.2 201.3,1107.2 202.3,1108.2 203.3,1108.2 204.3,1109.2 206.3,1109.2 207.3,1110.2 231.6,1110.2 232.6,1109.2 234.6,1109.2 235.6,1108.2 238.6,1108.2 239.6,1107.2 241.7,1107.2 242.7,1106.2 244.7,1106.2 245.7,1105.1 247.7,1105.1 249.8,1103.1 250.8,1103.1 251.8,1102.1 252.8,1102.1 254.8,1100.1 255.8,1100.1 257.8,1098.1 258.8,1098.1 259.8,1097.1 261.9,1097.0 263.9,1096.3 271.0,1092.7 278.0,1088.1 285.1,1082.8 294.2,1075.0 302.3,1067.2 309.9,1058.6 316.4,1050.2 322.1,1041.4 327.1,1032.3 331.2,1023.2 334.9,1013.1 337.8,1003.0 339.9,992.9 341.3,981.8 341.6,972.7 341.1,963.6 339.9,953.5 338.1,944.4 335.9,936.3 332.4,926.2 327.8,915.1 323.3,906.0 318.6,897.9 313.4,890.2 307.3,882.2 300.2,873.7 293.2,865.9 282.1,854.9 256.8,832.2 247.9,823.1 244.5,819.0 241.5,815.0 239.1,810.9 237.2,806.9 235.1,800.8 233.9,793.8 233.4,786.7 233.7,777.6 234.8,767.5 236.6,756.3 240.9,736.1 241.9,732.1 242.7,730.1" stroke="#c8c42a"/>
<path d="M213.4,848.3 208.3,848.5 205.3,851.2 202.3,854.4 199.2,858.0 196.2,862.2 191.7,869.6 186.7,879.7 183.8,886.8 180.9,895.9 177.8,908.0 175.0,921.1 172.7,935.3 171.3,947.4 170.7,957.5 170.7,968.7 171.3,978.8 172.7,989.9 174.4,999.0 176.6,1008.1 179.7,1018.2 183.1,1027.3 186.7,1035.4 191.2,1043.8 195.2,1050.0 199.2,1054.9 204.3,1059.9 210.4,1064.4 215.4,1067.3 221.5,1069.7 227.5,1071.3 233.6,1072.1 240.7,1072.2 247.7,1071.4 255.8,1069.6 264.9,1066.5 274.0,1062.1 282.1,1057.2 290.2,1051.2 297.6,1044.5 304.3,1037.1 310.0,1029.3 314.9,1021.2 319.2,1012.1 322.9,1002.0 325.6,991.9 327.2,982.8 328.1,973.7 327.9,963.6 326.8,953.5 324.7,943.4 322.0,934.3 317.7,923.2 313.2,914.1 308.3,906.0 302.4,897.9 296.2,890.8 288.1,882.7 280.0,875.9 270.0,868.7 259.8,862.7 248.7,857.0 239.6,853.3 230.6,850.5 222.5,848.9 213.4,848.3M113.4,773.9 114.4,773.5 115.4,774.5 117.4,774.5 118.4,775.6 120.5,775.6 121.5,776.6 123.5,776.6 124.5,777.6 125.5,777.6 126.5,778.6 128.5,778.6 129.6,779.6 131.6,779.6 132.6,780.6 134.6,780.6 135.6,781.6 137.6,781.6 138.6,782.6 140.7,782.6 141.7,783.6 142.7,783.6 143.7,784.7 145.7,784.7 146.7,785.7 147.7,785.7 148.8,786.7 150.8,786.7 151.8,787.7 153.8,787.7 154.8,788.7 155.8,788.7 156.8,789.7 158.9,789.7 159.9,790.7 163.9,790.7 164.9,791.7 170.0,791.7 171.0,792.7 174.0,792.7 175.0,791.7 183.1,791.7 184.1,790.7 185.1,790.7 186.1,789.7 187.1,789.7 188.1,788.7 189.1,788.7 190.2,787.7 192.2,787.7 198.2,781.6 198.2,780.6 201.3,777.6 201.3,776.6 202.3,775.6 202.3,774.5 204.3,772.5 204.3,771.5 205.3,770.5 205.3,769.5 207.3,767.5 207.3,766.5 208.3,765.4 208.3,764.4 209.4,763.4 209.4,762.4 210.4,761.4 210.4,760.4 211.4,759.4 211.4,758.4 212.4,757.4 212.4,756.3 213.4,755.3 213.4,754.3 215.4,752.3 215.4,751.3 216.4,750.3 216.4,749.3 218.4,747.2 218.4,746.2 220.5,744.2 220.5,743.2 221.5,742.2 221.5,741.2 223.5,739.2 223.5,738.1 225.5,736.1 225.5,735.1 226.5,734.1 226.5,733.1 226.4,732.1 225.5,730.9 225.2,730.1" stroke="#efbc39"/>
<path d="M238.6,870.5 232.6,869.8 227.5,869.9 222.5,870.7 217.4,872.3 212.5,875.6 208.3,879.6 204.3,884.6 200.3,891.1 196.4,898.9 192.9,908.0 189.8,918.1 187.1,929.2 185.1,940.3 183.8,950.5 183.2,960.6 183.3,970.7 184.0,979.8 185.3,988.9 187.2,998.0 189.5,1006.1 192.4,1014.2 195.9,1022.2 199.7,1029.3 203.8,1035.4 207.9,1040.4 212.4,1044.8 217.4,1048.7 222.5,1051.6 228.5,1054.1 234.1,1055.6 240.7,1056.5 246.7,1056.5 253.8,1055.8 261.9,1053.9 268.9,1051.3 276.0,1047.8 283.1,1043.4 289.1,1038.7 295.2,1033.0 300.2,1027.3 305.3,1020.3 309.3,1013.4 312.8,1006.1 315.8,998.0 318.2,988.9 319.6,980.8 320.3,972.7 320.3,964.6 319.6,956.5 318.2,948.4 316.1,940.3 313.3,932.3 309.8,924.2 305.9,917.1 301.3,910.1 296.2,903.7 290.2,897.4 284.1,892.0 278.0,887.4 271.0,882.9 262.9,878.6 254.8,875.1 246.7,872.3 238.6,870.5M113.4,759.4 119.5,759.4 120.5,760.4 126.5,760.4 127.5,761.4 133.6,761.4 134.6,762.4 142.7,762.4 143.7,763.4 150.8,763.4 151.8,764.4 163.9,764.4 164.9,763.4 171.0,763.4 172.0,762.4 174.0,762.4 175.0,761.4 176.0,761.4 177.0,760.4 179.0,760.4 180.1,759.4 181.1,759.4 182.1,758.4 184.1,758.4 188.1,754.3 189.1,754.3 199.2,744.2 199.2,743.2 204.3,738.1 204.3,737.1 206.3,735.1 206.3,734.1 207.3,733.1 207.3,732.1 206.3,731.4 205.7,730.1" stroke="#fdc136"/>
<path d="M243.7,887.7 238.6,887.5 233.6,888.0 228.5,889.3 224.5,891.1 220.5,893.8 217.1,896.9 213.4,901.3 210.3,906.0 206.6,913.1 203.6,920.1 200.9,928.2 198.4,937.3 196.7,946.4 195.6,954.5 195.1,962.6 195.2,970.7 195.9,978.8 197.0,985.8 198.6,992.9 200.7,1000.0 203.4,1007.1 206.3,1013.3 209.7,1019.2 213.3,1024.3 216.8,1028.3 220.5,1031.8 224.5,1034.8 229.5,1037.7 234.6,1039.8 239.6,1041.2 244.7,1041.9 250.8,1042.1 256.8,1041.5 262.9,1040.1 268.9,1038.0 275.0,1035.1 281.1,1031.4 286.1,1027.5 291.2,1022.7 295.2,1018.0 299.2,1012.4 302.9,1006.1 305.7,1000.0 308.3,992.9 310.2,985.8 311.4,978.8 312.0,971.7 312.0,964.6 311.5,957.5 310.3,950.5 308.5,943.4 306.0,936.3 302.9,929.2 299.5,923.2 295.3,917.1 291.2,912.1 286.1,907.0 281.1,902.8 276.0,899.2 270.0,895.7 263.9,892.9 256.8,890.4 249.8,888.6 243.7,887.7M113.4,745.5 114.4,745.2 118.4,745.2 119.5,746.2 150.8,746.2 151.8,745.2 153.8,745.2 154.8,744.2 157.8,744.2 158.9,743.2 161.9,743.2 162.9,742.2 164.9,742.2 165.9,741.2 166.9,741.2 167.9,740.2 170.0,740.2 171.0,739.2 172.0,739.2 173.0,738.1 174.0,738.1 175.0,737.1 176.0,737.1 181.1,732.1 181.1,731.1 180.1,730.1" stroke="#fecd2d"/>
<path d="M254.8,903.9 249.8,903.3 244.7,903.2 240.7,903.7 236.6,904.6 232.6,906.3 229.5,908.1 225.9,911.0 222.5,914.8 219.4,919.1 216.4,924.3 213.7,930.2 211.4,936.3 209.6,942.4 208.0,949.4 207.0,956.5 206.6,962.6 206.5,968.7 207.0,974.7 207.8,980.8 209.1,986.9 210.9,992.9 213.2,999.0 215.6,1004.0 218.6,1009.1 221.6,1013.1 225.2,1017.2 228.5,1020.1 232.6,1022.9 236.6,1025.1 241.7,1026.9 245.7,1027.8 250.8,1028.4 255.8,1028.2 260.9,1027.5 265.9,1026.1 270.0,1024.5 275.0,1021.8 279.0,1019.1 283.1,1015.8 287.1,1011.8 290.2,1008.1 293.6,1003.0 296.3,998.0 298.5,992.9 300.3,987.9 301.8,981.8 302.8,975.7 303.3,969.7 303.2,963.6 302.6,957.5 301.5,951.5 300.2,946.4 298.2,940.9 295.7,935.3 293.2,930.7 290.2,926.2 286.9,922.1 283.0,918.1 279.0,914.7 274.0,911.2 270.0,909.0 264.9,906.7 259.8,905.1 254.8,903.9M113.4,733.5 115.4,734.5 117.4,734.9 122.5,734.7 125.6,734.1 129.6,732.9 132.6,731.7 135.6,730.1" stroke="#fbd927"/>
<path d="M257.8,918.0 253.8,917.6 249.8,917.6 245.7,918.1 242.7,918.9 239.6,920.0 236.6,921.7 233.6,924.1 231.4,926.2 228.5,929.8 226.3,933.3 224.1,937.3 221.9,942.4 220.2,947.4 219.0,952.5 218.1,957.5 217.6,962.6 217.5,967.6 217.8,972.7 218.4,977.3 219.4,981.8 220.5,985.8 222.4,990.9 224.5,995.2 226.7,999.0 229.5,1002.8 232.5,1006.1 235.6,1008.7 238.6,1010.7 241.7,1012.3 245.7,1013.8 248.7,1014.6 252.8,1015.0 256.8,1015.0 260.9,1014.4 264.9,1013.3 267.9,1012.2 271.9,1010.1 275.0,1008.0 278.0,1005.6 281.1,1002.6 284.0,999.0 286.1,995.8 288.3,991.9 290.2,987.7 291.8,982.8 292.8,978.8 293.5,974.7 294.0,969.7 294.0,965.6 293.7,960.6 293.1,956.5 291.9,951.5 290.6,947.4 289.0,943.4 286.9,939.3 284.3,935.3 282.0,932.3 279.0,929.0 276.0,926.3 273.0,924.1 269.8,922.1 265.9,920.3 261.9,918.9 257.8,918.0" stroke="#f6e622"/>
<path d="M258.8,934.1 253.8,933.9 250.9,934.3 248.7,934.8 245.7,936.1 243.7,937.2 240.0,940.3 236.6,944.7 233.6,950.5 231.6,956.7 230.5,963.6 230.6,970.7 231.7,976.7 233.8,982.8 236.6,988.1 238.6,990.8 240.7,992.9 244.7,996.0 246.7,997.1 249.8,998.3 252.6,999.0 254.8,999.2 259.8,998.9 262.9,998.1 264.9,997.3 268.9,995.0 273.0,991.5 276.6,986.9 279.3,981.8 281.3,975.7 282.2,969.7 282.2,963.6 281.2,957.5 279.2,951.5 276.5,946.4 273.0,941.9 268.9,938.3 266.9,937.0 263.9,935.6 258.8,934.1" stroke="#f5f31a"/>
</g>
<path d="M192.8,810.5 L194.3,811.4 L196.2,812.5 L198.6,813.8 L201.3,815.3 L204.2,816.9 L207.4,818.6 L210.9,820.5 L214.8,822.5 L219.0,824.7 L223.3,826.9 L227.6,829.2 L231.8,831.6 L235.9,833.9 L239.9,836.2 L244.0,838.6 L248.0,841.0 L252.0,843.6 L256.1,846.2 L260.3,849.0 L264.5,851.9 L268.8,855.0 L273.0,858.0 L276.9,861.0 L280.5,863.9 L283.7,866.6 L286.5,869.2 L289.1,871.7 L291.6,874.3 L294.1,877.1 L296.8,880.2 L299.8,883.5 L302.9,887.2 L306.0,891.0 L309.1,894.9 L312.0,898.8 L314.6,902.8 L316.9,906.8 L319.1,910.9 L321.0,915.0 L322.8,919.2 L324.5,923.2 L326.0,927.1 L327.4,930.7 L328.7,934.2 L329.8,937.6 L330.8,941.0 L331.7,944.4 L332.5,948.1 L333.2,952.1 L333.8,956.4 L334.2,960.9 L334.6,965.1 L334.8,969.1 L335.0,972.4 L335.1,975.0 L335.0,977.0 L334.9,978.6 L334.7,980.1 L334.4,981.7 L334.1,983.8 L333.8,986.1 L333.4,988.5 L333.0,991.1 L332.4,993.8 L331.7,996.7 L330.9,999.8 L329.9,1003.2 L328.7,1007.0 L327.4,1010.9 L325.9,1014.9 L324.4,1018.8 L322.8,1022.5 L321.1,1026.0 L319.4,1029.3 L317.5,1032.6 L315.6,1035.8 L313.5,1038.9 L311.4,1041.9 L309.2,1044.8 L306.8,1047.7 L304.4,1050.4 L301.9,1053.0 L299.4,1055.6 L296.8,1058.1 L294.2,1060.4 L291.5,1062.7 L288.8,1064.9 L286.0,1067.0 L283.2,1069.1 L280.5,1071.0 L277.8,1072.9 L275.1,1074.6 L272.4,1076.3 L269.7,1077.9 L267.0,1079.4 L264.3,1080.8 L261.6,1082.1 L258.9,1083.3 L256.3,1084.4 L253.6,1085.5 L250.8,1086.4 L248.0,1087.2 L245.1,1088.0 L242.0,1088.7 L238.9,1089.3 L235.9,1089.8 L232.9,1090.2 L230.1,1090.4 L227.5,1090.5 L225.0,1090.4 L222.6,1090.2 L220.2,1089.9 L217.9,1089.4 L215.5,1088.8 L213.1,1088.1 L210.6,1087.3 L208.2,1086.4 L205.8,1085.3 L203.3,1084.0 L200.9,1082.4 L198.4,1080.5 L195.9,1078.3 L193.3,1075.9 L190.8,1073.3 L188.5,1070.6 L186.3,1067.8 L184.4,1064.9 L182.6,1061.8 L181.0,1058.5 L179.5,1055.2 L178.0,1051.8 L176.5,1048.4 L175.0,1045.0 L173.6,1041.6 L172.2,1038.1 L170.9,1034.6 L169.6,1031.0 L168.4,1027.3 L167.2,1023.4 L166.0,1019.4 L164.9,1015.4 L163.8,1011.3 L162.8,1007.2 L161.9,1003.1 L161.1,998.9 L160.5,994.6 L159.9,990.3 L159.4,986.2 L159.0,982.3 L158.6,978.8 L158.3,975.8 L158.1,973.3 L157.9,971.1 L157.9,968.9 L157.8,966.5 L157.8,963.8 L157.8,960.8 L157.9,957.5 L157.9,954.2 L158.1,950.6 L158.3,947.0 L158.6,943.3 L159.0,939.5 L159.5,935.7 L160.0,931.7 L160.6,927.6 L161.2,923.4 L161.9,919.0 L162.6,914.3 L163.4,909.3 L164.3,904.1 L165.1,899.0 L166.0,894.2 L166.8,889.8 L167.6,886.0 L168.3,882.5 L169.1,879.3 L169.9,876.3 L170.7,873.3 L171.6,870.4 L172.6,867.6 L173.6,865.1 L174.6,862.6 L175.7,860.1 L176.9,857.4 L178.1,854.3 L179.4,850.6 L180.8,846.6 L182.2,842.3 L183.6,838.0 L185.0,833.8 L186.3,830.0 L187.6,826.2 L188.8,822.4 L190.1,818.7 L191.2,815.4 L192.1,812.6 L192.8,810.5" fill="none" stroke="#0000ff" stroke-width="2.6"/>
<path d="M152.6,764.4 L161.9,768.1 L170.0,767.5 L186.1,760.0 L206.3,751.3 L216.8,740.8 L219.7,755.9 L226.3,777.2 L244.7,794.4 L331.0,874.8 L350.1,874.8 L350.1,1072.4 L331.0,1072.4 L269.5,1132.6 L237.8,1162.4 L227.3,1205.4 L194.8,1160.5 L145.7,1170.2 L141.1,1174.5 L146.1,1169.8 L159.3,1128.0 L159.3,1122.1 L145.9,1062.7 L145.9,880.7 L163.1,809.7 L161.1,790.7 L152.6,764.4" fill="none" stroke="#000" stroke-width="3" stroke-linejoin="round"/>
<rect x="114" y="730.3" width="281" height="483.29999999999995" fill="none" stroke="#000" stroke-width="3.2"/>
<path d="M174.0,730.3v6M174.0,1213.6v-6M275.0,730.3v6M275.0,1213.6v-6M376.0,730.3v6M376.0,1213.6v-6M114,1174.9h6M395,1174.9h-6M114,1073.8h6M395,1073.8h-6M114,972.7h6M395,972.7h-6M114,871.6h6M395,871.6h-6M114,770.5h6M395,770.5h-6" stroke="#000" stroke-width="3" fill="none"/>
<text x="174.0" y="1256.5" font-size="30.5" text-anchor="middle" fill="#262626" font-weight="normal" font-style="normal" font-family="'DejaVu Sans', 'Liberation Sans', sans-serif" >1.5</text>
<text x="275.0" y="1256.5" font-size="30.5" text-anchor="middle" fill="#262626" font-weight="normal" font-style="normal" font-family="'DejaVu Sans', 'Liberation Sans', sans-serif" >2</text>
<text x="376.0" y="1256.5" font-size="30.5" text-anchor="middle" fill="#262626" font-weight="normal" font-style="normal" font-family="'DejaVu Sans', 'Liberation Sans', sans-serif" >2.5</text>
<text x="103.0" y="783.5" font-size="30.5" text-anchor="end" fill="#262626" font-weight="normal" font-style="normal" font-family="'DejaVu Sans', 'Liberation Sans', sans-serif" >1</text>
<text x="103.0" y="884.6" font-size="30.5" text-anchor="end" fill="#262626" font-weight="normal" font-style="normal" font-family="'DejaVu Sans', 'Liberation Sans', sans-serif" >0.5</text>
<text x="103.0" y="985.7" font-size="30.5" text-anchor="end" fill="#262626" font-weight="normal" font-style="normal" font-family="'DejaVu Sans', 'Liberation Sans', sans-serif" >0</text>
<text x="103.0" y="1086.8" font-size="30.5" text-anchor="end" fill="#262626" font-weight="normal" font-style="normal" font-family="'DejaVu Sans', 'Liberation Sans', sans-serif" >-0.5</text>
<text x="103.0" y="1187.9" font-size="30.5" text-anchor="end" fill="#262626" font-weight="normal" font-style="normal" font-family="'DejaVu Sans', 'Liberation Sans', sans-serif" >-1</text>
<text x="254.5" y="1300.0" font-size="33" text-anchor="middle" fill="#262626" font-weight="normal" font-style="normal" font-family="'DejaVu Sans', 'Liberation Sans', sans-serif" letter-spacing="0.6">R [m]</text>
<text x="25.3" y="973.7" font-size="33" text-anchor="middle" fill="#262626" font-weight="normal" font-style="normal" font-family="'DejaVu Sans', 'Liberation Sans', sans-serif" letter-spacing="0.6" transform="rotate(-90 25.3 973.7)">Z [m]</text>
<text y="717" font-size="33" font-family="'DejaVu Sans', 'Liberation Sans', sans-serif" fill="#000" font-weight="bold"><tspan x="191" font-size="35" font-family="'Liberation Serif', serif" font-style="italic" font-weight="normal">ψ</tspan><tspan x="227">[Wb]</tspan></text>
<text x="123.0" y="778.0" font-size="50" text-anchor="start" fill="#ff0000" font-weight="bold" font-style="normal" font-family="'Liberation Serif', 'DejaVu Serif', serif" >d</text>
<rect x="423.5" y="733.5" width="29.0" height="483.0" fill="url(#cbd)" stroke="#1a1a1a" stroke-width="2.2"/>
<path d="M452.5,752.7h-5M452.5,805.6h-5M452.5,858.5h-5M452.5,911.3h-5M452.5,964.2h-5M452.5,1017.1h-5M452.5,1070.0h-5M452.5,1122.9h-5M452.5,1175.7h-5" stroke="#1a1a1a" stroke-width="2.2"/>
<text x="461.0" y="762.7" font-size="28" text-anchor="start" fill="#262626" font-weight="normal" font-style="normal" font-family="'DejaVu Sans', 'Liberation Sans', sans-serif" >0.4</text>
<text x="461.0" y="815.6" font-size="28" text-anchor="start" fill="#262626" font-weight="normal" font-style="normal" font-family="'DejaVu Sans', 'Liberation Sans', sans-serif" >0.2</text>
<text x="461.0" y="868.5" font-size="28" text-anchor="start" fill="#262626" font-weight="normal" font-style="normal" font-family="'DejaVu Sans', 'Liberation Sans', sans-serif" >0</text>
<text x="461.0" y="921.3" font-size="28" text-anchor="start" fill="#262626" font-weight="normal" font-style="normal" font-family="'DejaVu Sans', 'Liberation Sans', sans-serif" >-0.2</text>
<text x="461.0" y="974.2" font-size="28" text-anchor="start" fill="#262626" font-weight="normal" font-style="normal" font-family="'DejaVu Sans', 'Liberation Sans', sans-serif" >-0.4</text>
<text x="461.0" y="1027.1" font-size="28" text-anchor="start" fill="#262626" font-weight="normal" font-style="normal" font-family="'DejaVu Sans', 'Liberation Sans', sans-serif" >-0.6</text>
<text x="461.0" y="1080.0" font-size="28" text-anchor="start" fill="#262626" font-weight="normal" font-style="normal" font-family="'DejaVu Sans', 'Liberation Sans', sans-serif" >-0.8</text>
<text x="461.0" y="1132.9" font-size="28" text-anchor="start" fill="#262626" font-weight="normal" font-style="normal" font-family="'DejaVu Sans', 'Liberation Sans', sans-serif" >-1</text>
<text x="461.0" y="1185.7" font-size="28" text-anchor="start" fill="#262626" font-weight="normal" font-style="normal" font-family="'DejaVu Sans', 'Liberation Sans', sans-serif" >-1.2</text>
<rect x="697.5" y="49.5" width="285.5" height="486.5" fill="#3d27a9"/>
<path d="M786.2,133.8 L786.6,134.0 L786.8,134.2 L787.5,134.7 L789.1,135.6 L792.5,137.5 L798.2,140.5 L805.9,144.6 L814.4,149.1 L822.8,153.6 L830.0,157.5 L835.9,160.8 L841.2,163.7 L846.0,166.6 L850.6,169.4 L855.0,172.5 L859.1,175.7 L863.0,178.9 L866.5,182.2 L870.1,185.9 L873.8,190.0 L877.7,195.0 L881.9,200.8 L885.9,206.8 L889.5,212.1 L892.5,216.2 L894.5,218.6 L895.8,219.7 L896.7,220.2 L897.5,220.9 L898.8,222.5 L900.4,225.1 L902.1,228.2 L904.0,231.6 L905.8,235.2 L907.5,238.8 L909.1,242.3 L910.8,245.8 L912.3,249.5 L913.8,253.4 L915.0,257.5 L916.1,261.9 L917.0,266.6 L917.7,271.5 L918.3,276.3 L918.7,281.1 L918.9,285.6 L918.8,290.1 L918.6,294.5 L918.2,299.1 L917.6,304.0 L916.8,309.2 L915.9,314.7 L914.8,320.4 L913.4,326.1 L911.8,331.7 L910.0,337.3 L908.1,342.9 L905.8,348.5 L903.3,354.0 L900.3,359.4 L896.8,364.8 L892.9,370.1 L888.7,375.4 L884.2,380.3 L879.6,384.7 L874.9,388.7 L869.9,392.2 L864.8,395.5 L859.6,398.3 L854.3,400.8 L848.9,402.9 L843.4,404.7 L837.9,406.0 L832.3,407.1 L826.7,407.7 L821.0,408.0 L815.2,408.0 L809.4,407.6 L803.9,406.7 L799.0,405.4 L794.7,403.5 L790.9,401.1 L787.3,398.3 L784.0,395.1 L780.6,391.6 L777.2,387.7 L773.8,383.4 L770.5,378.7 L767.4,373.8 L764.5,368.6 L761.8,363.1 L759.3,357.3 L757.0,351.3 L754.9,345.0 L753.0,338.6 L751.4,332.0 L750.1,325.1 L749.0,318.1 L748.1,311.1 L747.3,304.1 L746.7,297.0 L746.4,289.8 L746.2,282.7 L746.1,275.9 L746.1,269.6 L746.2,263.9 L746.4,258.6 L746.8,253.6 L747.1,249.1 L747.5,245.0 L747.9,241.5 L748.2,238.7 L748.6,236.1 L749.1,233.5 L749.6,230.5 L750.2,227.0 L750.8,223.3 L751.5,219.4 L752.2,215.6 L753.0,212.0 L753.8,208.8 L754.5,206.0 L755.4,203.1 L756.4,199.9 L757.6,196.0 L759.1,191.1 L760.9,185.3 L762.9,179.3 L764.9,173.4 L766.8,168.3 L768.6,164.0 L770.4,160.2 L772.2,156.7 L774.1,153.4 L776.0,150.0 L778.1,146.4 L780.5,142.6 L782.8,139.0 L784.8,135.9 L786.2,133.8Z" fill="#4659ef"/>
<g clip-path="url(#clipb)">
<path d="M786.2,133.8 L786.6,134.0 L786.8,134.2 L787.5,134.7 L789.1,135.6 L792.5,137.5 L798.2,140.5 L805.9,144.6 L814.4,149.1 L822.8,153.6 L830.0,157.5 L835.9,160.8 L841.2,163.7 L846.0,166.6 L850.6,169.4 L855.0,172.5 L859.1,175.7 L863.0,178.9 L866.5,182.2 L870.1,185.9 L873.8,190.0 L877.7,195.0 L881.9,200.8 L885.9,206.8 L889.5,212.1 L892.5,216.2 L894.5,218.6 L895.8,219.7 L896.7,220.2 L897.5,220.9 L898.8,222.5 L900.4,225.1 L902.1,228.2 L904.0,231.6 L905.8,235.2 L907.5,238.8 L909.1,242.3 L910.8,245.8 L912.3,249.5 L913.8,253.4 L915.0,257.5 L916.1,261.9 L917.0,266.6 L917.7,271.5 L918.3,276.3 L918.7,281.1 L918.9,285.6 L918.8,290.1 L918.6,294.5 L918.2,299.1 L917.6,304.0 L916.8,309.2 L915.9,314.7 L914.8,320.4 L913.4,326.1 L911.8,331.7 L910.0,337.3 L908.1,342.9 L905.8,348.5 L903.3,354.0 L900.3,359.4 L896.8,364.8 L892.9,370.1 L888.7,375.4 L884.2,380.3 L879.6,384.7 L874.9,388.7 L869.9,392.2 L864.8,395.5 L859.6,398.3 L854.3,400.8 L848.9,402.9 L843.4,404.7 L837.9,406.0 L832.3,407.1 L826.7,407.7 L821.0,408.0 L815.2,408.0 L809.4,407.6 L803.9,406.7 L799.0,405.4 L794.7,403.5 L790.9,401.1 L787.3,398.3 L784.0,395.1 L780.6,391.6 L777.2,387.7 L773.8,383.4 L770.5,378.7 L767.4,373.8 L764.5,368.6 L761.8,363.1 L759.3,357.3 L757.0,351.3 L754.9,345.0 L753.0,338.6 L751.4,332.0 L750.1,325.1 L749.0,318.1 L748.1,311.1 L747.3,304.1 L746.7,297.0 L746.4,289.8 L746.2,282.7 L746.1,275.9 L746.1,269.6 L746.2,263.9 L746.4,258.6 L746.8,253.6 L747.1,249.1 L747.5,245.0 L747.9,241.5 L748.2,238.7 L748.6,236.1 L749.1,233.5 L749.6,230.5 L750.2,227.0 L750.8,223.3 L751.5,219.4 L752.2,215.6 L753.0,212.0 L753.8,208.8 L754.5,206.0 L755.4,203.1 L756.4,199.9 L757.6,196.0 L759.1,191.1 L760.9,185.3 L762.9,179.3 L764.9,173.4 L766.8,168.3 L768.6,164.0 L770.4,160.2 L772.2,156.7 L774.1,153.4 L776.0,150.0 L778.1,146.4 L780.5,142.6 L782.8,139.0 L784.8,135.9 L786.2,133.8Z" fill="none" stroke="#3f86f3" stroke-width="20" filter="url(#bl5)"/>
<ellipse cx="812" cy="195" rx="58" ry="42" fill="#4844dc" filter="url(#bl10)"/>
<ellipse cx="790" cy="195" rx="18" ry="10" fill="#4638cf" filter="url(#bl6)"/>
<ellipse cx="852" cy="203" rx="18" ry="10" fill="#4638cf" filter="url(#bl6)"/>
<ellipse cx="826" cy="345" rx="32" ry="28" fill="#3f86f0" filter="url(#bl8)"/>
<ellipse cx="888" cy="298" rx="16" ry="38" fill="#2da8d2" filter="url(#bl8)"/>
<path d="M799,244 C815,232 845,226 860,231 C872,238 872,262 862,280 C852,298 858,312 866,323 C872,340 868,362 858,372 C845,384 820,384 804,376 C790,365 786,345 787,322 C788,300 790,270 799,244Z" fill="none" stroke="#3f31c2" stroke-width="5" filter="url(#bl3)"/>
<path d="M893,222 C903,240 906,262 907,300 C907,330 900,352 880,382" fill="none" stroke="#4133c6" stroke-width="5" filter="url(#bl3)"/>
<path d="M765,178 C800,190 850,200 891,216" fill="none" stroke="#4a40d8" stroke-width="8" filter="url(#bl6)"/>
<path d="M786.2,133.8 L786.6,134.0 L786.8,134.2 L787.5,134.7 L789.1,135.6 L792.5,137.5 L798.2,140.5 L805.9,144.6 L814.4,149.1 L822.8,153.6 L830.0,157.5 L835.9,160.8 L841.2,163.7 L846.0,166.6 L850.6,169.4 L855.0,172.5 L859.1,175.7 L863.0,178.9 L866.5,182.2 L870.1,185.9 L873.8,190.0 L877.7,195.0 L881.9,200.8 L885.9,206.8 L889.5,212.1 L892.5,216.2 L894.5,218.6 L895.8,219.7 L896.7,220.2 L897.5,220.9 L898.8,222.5 L900.4,225.1 L902.1,228.2 L904.0,231.6 L905.8,235.2 L907.5,238.8 L909.1,242.3 L910.8,245.8 L912.3,249.5 L913.8,253.4 L915.0,257.5 L916.1,261.9 L917.0,266.6 L917.7,271.5 L918.3,276.3 L918.7,281.1 L918.9,285.6 L918.8,290.1 L918.6,294.5 L918.2,299.1 L917.6,304.0 L916.8,309.2 L915.9,314.7 L914.8,320.4 L913.4,326.1 L911.8,331.7 L910.0,337.3 L908.1,342.9 L905.8,348.5 L903.3,354.0 L900.3,359.4 L896.8,364.8 L892.9,370.1 L888.7,375.4 L884.2,380.3 L879.6,384.7 L874.9,388.7 L869.9,392.2 L864.8,395.5 L859.6,398.3 L854.3,400.8 L848.9,402.9 L843.4,404.7 L837.9,406.0 L832.3,407.1 L826.7,407.7 L821.0,408.0 L815.2,408.0 L809.4,407.6 L803.9,406.7 L799.0,405.4 L794.7,403.5 L790.9,401.1 L787.3,398.3 L784.0,395.1 L780.6,391.6 L777.2,387.7 L773.8,383.4 L770.5,378.7 L767.4,373.8 L764.5,368.6 L761.8,363.1 L759.3,357.3 L757.0,351.3 L754.9,345.0 L753.0,338.6 L751.4,332.0 L750.1,325.1 L749.0,318.1 L748.1,311.1 L747.3,304.1 L746.7,297.0 L746.4,289.8 L746.2,282.7 L746.1,275.9 L746.1,269.6 L746.2,263.9 L746.4,258.6 L746.8,253.6 L747.1,249.1 L747.5,245.0 L747.9,241.5 L748.2,238.7 L748.6,236.1 L749.1,233.5 L749.6,230.5 L750.2,227.0 L750.8,223.3 L751.5,219.4 L752.2,215.6 L753.0,212.0 L753.8,208.8 L754.5,206.0 L755.4,203.1 L756.4,199.9 L757.6,196.0 L759.1,191.1 L760.9,185.3 L762.9,179.3 L764.9,173.4 L766.8,168.3 L768.6,164.0 L770.4,160.2 L772.2,156.7 L774.1,153.4 L776.0,150.0 L778.1,146.4 L780.5,142.6 L782.8,139.0 L784.8,135.9 L786.2,133.8Z" fill="none" stroke="#3a95f0" stroke-width="4"/>
<circle cx="837" cy="281" r="31" fill="#2f8cf2" filter="url(#bl5)"/>
<circle cx="839" cy="283" r="26" fill="#1fb2d2" filter="url(#bl4)"/>
<circle cx="839" cy="283" r="20" fill="#8dc35f" filter="url(#bl4)"/>
<circle cx="839" cy="283" r="15" fill="#f4ae38" filter="url(#bl4)"/>
<circle cx="839" cy="283" r="9" fill="#f9d42a" filter="url(#bl4)"/>
</g>
<circle cx="839.3" cy="283.4" r="7" fill="#000"/>
<path d="M697,46V536.5H983" fill="none" stroke="#1a1030" stroke-width="2"/>
<text x="760.0" y="573.5" font-size="30.5" text-anchor="middle" fill="#262626" font-weight="normal" font-style="normal" font-family="'DejaVu Sans', 'Liberation Sans', sans-serif" >1.5</text>
<text x="859.7" y="573.5" font-size="30.5" text-anchor="middle" fill="#262626" font-weight="normal" font-style="normal" font-family="'DejaVu Sans', 'Liberation Sans', sans-serif" >2</text>
<text x="959.5" y="573.5" font-size="30.5" text-anchor="middle" fill="#262626" font-weight="normal" font-style="normal" font-family="'DejaVu Sans', 'Liberation Sans', sans-serif" >2.5</text>
<text x="686.5" y="101.7" font-size="30.5" text-anchor="end" fill="#262626" font-weight="normal" font-style="normal" font-family="'DejaVu Sans', 'Liberation Sans', sans-serif" >1</text>
<text x="686.5" y="202.2" font-size="30.5" text-anchor="end" fill="#262626" font-weight="normal" font-style="normal" font-family="'DejaVu Sans', 'Liberation Sans', sans-serif" >0.5</text>
<text x="686.5" y="302.7" font-size="30.5" text-anchor="end" fill="#262626" font-weight="normal" font-style="normal" font-family="'DejaVu Sans', 'Liberation Sans', sans-serif" >0</text>
<text x="686.5" y="403.2" font-size="30.5" text-anchor="end" fill="#262626" font-weight="normal" font-style="normal" font-family="'DejaVu Sans', 'Liberation Sans', sans-serif" >-0.5</text>
<text x="686.5" y="503.7" font-size="30.5" text-anchor="end" fill="#262626" font-weight="normal" font-style="normal" font-family="'DejaVu Sans', 'Liberation Sans', sans-serif" >-1</text>
<text x="840.0" y="617.0" font-size="33" text-anchor="middle" fill="#262626" font-weight="normal" font-style="normal" font-family="'DejaVu Sans', 'Liberation Sans', sans-serif" letter-spacing="0.6">R [m]</text>
<text x="608.5" y="291.0" font-size="33" text-anchor="middle" fill="#262626" font-weight="normal" font-style="normal" font-family="'DejaVu Sans', 'Liberation Sans', sans-serif" letter-spacing="0.6" transform="rotate(-90 608.5 291)">Z [m]</text>
<text x="708.5" y="99.5" font-size="50" text-anchor="start" fill="#ff0000" font-weight="bold" font-style="normal" font-family="'Liberation Serif', 'DejaVu Serif', serif" >b</text>
<rect x="1010" y="50.5" width="28.700000000000045" height="483.5" fill="url(#cbb)" stroke="#1a1a1a" stroke-width="2.2"/>
<path d="M1038.7,529.9h-5M1038.7,467.8h-5M1038.7,405.7h-5M1038.7,343.6h-5M1038.7,281.5h-5M1038.7,219.4h-5M1038.7,157.3h-5M1038.7,95.2h-5" stroke="#1a1a1a" stroke-width="2.2"/>
<text x="1047.0" y="539.9" font-size="28" text-anchor="start" fill="#262626" font-weight="normal" font-style="normal" font-family="'DejaVu Sans', 'Liberation Sans', sans-serif" >0</text>
<text x="1047.0" y="477.8" font-size="28" text-anchor="start" fill="#262626" font-weight="normal" font-style="normal" font-family="'DejaVu Sans', 'Liberation Sans', sans-serif" >1</text>
<text x="1047.0" y="415.7" font-size="28" text-anchor="start" fill="#262626" font-weight="normal" font-style="normal" font-family="'DejaVu Sans', 'Liberation Sans', sans-serif" >2</text>
<text x="1047.0" y="353.6" font-size="28" text-anchor="start" fill="#262626" font-weight="normal" font-style="normal" font-family="'DejaVu Sans', 'Liberation Sans', sans-serif" >3</text>
<text x="1047.0" y="291.5" font-size="28" text-anchor="start" fill="#262626" font-weight="normal" font-style="normal" font-family="'DejaVu Sans', 'Liberation Sans', sans-serif" >4</text>
<text x="1047.0" y="229.4" font-size="28" text-anchor="start" fill="#262626" font-weight="normal" font-style="normal" font-family="'DejaVu Sans', 'Liberation Sans', sans-serif" >5</text>
<text x="1047.0" y="167.3" font-size="28" text-anchor="start" fill="#262626" font-weight="normal" font-style="normal" font-family="'DejaVu Sans', 'Liberation Sans', sans-serif" >6</text>
<text x="1047.0" y="105.2" font-size="28" text-anchor="start" fill="#262626" font-weight="normal" font-style="normal" font-family="'DejaVu Sans', 'Liberation Sans', sans-serif" >7</text>
<rect x="696.5" y="732.5" width="286.5" height="486.3" fill="#3f2cbc"/>
<g clip-path="url(#clipe)">
<ellipse cx="760" cy="1170" rx="80" ry="70" fill="#3b29ad" filter="url(#bl20)"/>
<ellipse cx="930" cy="1140" rx="60" ry="90" fill="#3d2bb2" filter="url(#bl20)"/>
<ellipse cx="940" cy="800" rx="50" ry="60" fill="#4634c8" filter="url(#bl20)"/>
<ellipse cx="826" cy="838" rx="32" ry="24" fill="#4b40d6" filter="url(#bl8)"/>
<path d="M775,866 C800,862 850,862 885,872" fill="none" stroke="#3927ad" stroke-width="5" filter="url(#bl3)"/>
<path d="M890,840 C888,870 885,890 882,905" fill="none" stroke="#3927ad" stroke-width="10" filter="url(#bl6)"/>
<ellipse cx="830" cy="870" rx="70" ry="12" fill="#3f2cb8" filter="url(#bl8)"/>
<ellipse cx="822" cy="975" rx="66" ry="112" fill="#3c2bb4" filter="url(#bl10)"/>
<ellipse cx="902" cy="978" rx="20" ry="50" fill="#4d5ff3" filter="url(#bl8)"/>
<path d="M880,905 C882,950 881,1000 874,1060" fill="none" stroke="#3b2ab2" stroke-width="4" filter="url(#bl3)"/>
<ellipse cx="820" cy="975" rx="58" ry="100" fill="#4160f2" filter="url(#bl8)"/>
<ellipse cx="824" cy="980" rx="48" ry="88" fill="#2e86f2" filter="url(#bl8)"/>
<ellipse cx="828" cy="985" rx="42" ry="78" fill="#1cb0d6" filter="url(#bl8)"/>
<ellipse cx="830" cy="982" rx="35" ry="63" fill="#38bd9e" filter="url(#bl6)"/>
<ellipse cx="831" cy="975" rx="30" ry="50" fill="#72c47a" filter="url(#bl5)"/>
<ellipse cx="832" cy="970" rx="24" ry="37" fill="#f2b23c" filter="url(#bl6)"/>
<ellipse cx="835" cy="972" rx="14" ry="22" fill="#f8da2c" filter="url(#bl4)"/>
</g>
<circle cx="832.7" cy="966.5" r="7" fill="#000"/>
<path d="M697,729V1219H983" fill="none" stroke="#1a1030" stroke-width="2"/>
<text x="760.0" y="1256.5" font-size="30.5" text-anchor="middle" fill="#262626" font-weight="normal" font-style="normal" font-family="'DejaVu Sans', 'Liberation Sans', sans-serif" >1.5</text>
<text x="859.7" y="1256.5" font-size="30.5" text-anchor="middle" fill="#262626" font-weight="normal" font-style="normal" font-family="'DejaVu Sans', 'Liberation Sans', sans-serif" >2</text>
<text x="959.5" y="1256.5" font-size="30.5" text-anchor="middle" fill="#262626" font-weight="normal" font-style="normal" font-family="'DejaVu Sans', 'Liberation Sans', sans-serif" >2.5</text>
<text x="686.5" y="784.7" font-size="30.5" text-anchor="end" fill="#262626" font-weight="normal" font-style="normal" font-family="'DejaVu Sans', 'Liberation Sans', sans-serif" >1</text>
<text x="686.5" y="885.2" font-size="30.5" text-anchor="end" fill="#262626" font-weight="normal" font-style="normal" font-family="'DejaVu Sans', 'Liberation Sans', sans-serif" >0.5</text>
<text x="686.5" y="985.7" font-size="30.5" text-anchor="end" fill="#262626" font-weight="normal" font-style="normal" font-family="'DejaVu Sans', 'Liberation Sans', sans-serif" >0</text>
<text x="686.5" y="1086.2" font-size="30.5" text-anchor="end" fill="#262626" font-weight="normal" font-style="normal" font-family="'DejaVu Sans', 'Liberation Sans', sans-serif" >-0.5</text>
<text x="686.5" y="1186.7" font-size="30.5" text-anchor="end" fill="#262626" font-weight="normal" font-style="normal" font-family="'DejaVu Sans', 'Liberation Sans', sans-serif" >-1</text>
<text x="840.0" y="1300.0" font-size="33" text-anchor="middle" fill="#262626" font-weight="normal" font-style="normal" font-family="'DejaVu Sans', 'Liberation Sans', sans-serif" letter-spacing="0.6">R [m]</text>
<text x="608.5" y="973.7" font-size="33" text-anchor="middle" fill="#262626" font-weight="normal" font-style="normal" font-family="'DejaVu Sans', 'Liberation Sans', sans-serif" letter-spacing="0.6" transform="rotate(-90 608.5 973.7)">Z [m]</text>
<text x="707.0" y="784.5" font-size="50" text-anchor="start" fill="#ff0000" font-weight="bold" font-style="normal" font-family="'Liberation Serif', 'DejaVu Serif', serif" >e</text>
<rect x="1007.5" y="732.5" width="28.799999999999955" height="484.5" fill="url(#cbe)" stroke="#1a1a1a" stroke-width="2.2"/>
<path d="M1036.3,1105.0h-5M1036.3,991.2h-5M1036.3,877.5h-5M1036.3,763.8h-5" stroke="#1a1a1a" stroke-width="2.2"/>
<text x="1044.0" y="1115.0" font-size="28" text-anchor="start" fill="#262626" font-weight="normal" font-style="normal" font-family="'DejaVu Sans', 'Liberation Sans', sans-serif" >0.5</text>
<text x="1044.0" y="1001.2" font-size="28" text-anchor="start" fill="#262626" font-weight="normal" font-style="normal" font-family="'DejaVu Sans', 'Liberation Sans', sans-serif" >1</text>
<text x="1044.0" y="887.5" font-size="28" text-anchor="start" fill="#262626" font-weight="normal" font-style="normal" font-family="'DejaVu Sans', 'Liberation Sans', sans-serif" >1.5</text>
<text x="1044.0" y="773.8" font-size="28" text-anchor="start" fill="#262626" font-weight="normal" font-style="normal" font-family="'DejaVu Sans', 'Liberation Sans', sans-serif" >2</text>
<g clip-path="url(#clipc)">
<path d="M1339.6,486.5 L1351.0,454.0 L1366.4,385.0 L1372.2,363.9 L1376.0,360.7 L1383.3,358.9 L1391.3,363.9 L1400.9,308.3 L1412.4,201.0 L1421.2,174.2 L1429.7,201.0 L1437.3,254.6 L1443.5,140.0 L1445.0,49.0 L1461.0,49.0 L1463.0,140.0 L1466.1,224.0 L1475.6,268.0 L1488.9,271.0 L1507.8,283.3 L1514.4,305.6 L1518.9,350.0 L1523.3,405.6 L1527.8,472.0 L1529.5,528.5 L1512.2,528.5 L1503.3,472.0 L1490.0,405.6 L1481.1,361.0 L1478.9,326.0 L1470.0,332.0 L1463.3,350.0 L1461.1,405.6 L1460.5,528.5 L1445.5,528.5 L1444.0,410.0 L1438.0,396.0 L1431.0,398.0 L1426.0,428.0 L1414.6,482.0 L1405.0,450.0 L1400.0,428.8 L1392.5,403.0 L1383.3,428.8 L1372.3,495.0 L1361.3,501.4 L1349.0,494.0 L1339.6,488.4Z" fill="#d9d9d9"/>
<path d="M1341.0,487.0 L1352.0,462.0 L1366.0,400.0 L1378.0,372.0 L1390.0,372.0 L1402.0,330.0 L1414.0,250.0 L1422.0,224.0 L1430.0,250.0 L1438.0,290.0 L1446.0,110.0 L1452.5,75.0 L1459.0,110.0 L1466.0,240.0 L1474.0,285.0 L1488.0,292.0 L1500.0,300.0 L1510.0,320.0 L1516.0,370.0 L1521.0,430.0 L1526.0,500.0 L1528.0,520.0 L1520.0,522.0 L1512.0,480.0 L1500.0,430.0 L1488.0,385.0 L1478.0,345.0 L1470.0,345.0 L1462.0,370.0 L1458.0,440.0 L1452.2,485.6 L1447.0,440.0 L1444.0,380.0 L1438.0,350.0 L1430.0,370.0 L1412.8,432.4 L1404.0,400.0 L1398.0,380.0 L1388.0,395.0 L1376.0,450.0 L1362.0,492.0 L1350.0,490.0 L1341.0,488.0Z" fill="#c0c0c0"/>
<path d="M1343.0,485.0 L1356.0,452.0 L1370.0,410.0 L1382.0,392.0 L1394.0,382.0 L1405.0,335.0 L1415.0,295.0 L1428.0,280.0 L1440.0,272.0 L1444.0,160.0 L1452.5,140.0 L1461.0,160.0 L1466.0,270.0 L1478.0,292.0 L1492.0,305.0 L1504.0,330.0 L1512.0,370.0 L1518.0,420.0 L1524.0,480.0 L1526.0,505.0 L1519.0,505.0 L1510.0,465.0 L1498.0,425.0 L1486.0,385.0 L1474.0,350.0 L1466.0,345.0 L1460.0,380.0 L1455.0,450.0 L1452.2,470.0 L1449.0,440.0 L1446.0,380.0 L1438.0,345.0 L1428.0,352.0 L1416.0,385.0 L1408.0,405.0 L1398.0,415.0 L1386.0,440.0 L1372.0,470.0 L1358.0,486.0 L1346.0,489.0Z" fill="#a6a6a6"/>
<path d="M1446.0,232.0 L1452.5,180.0 L1459.0,232.0 L1466.0,282.0 L1476.0,300.0 L1488.0,322.0 L1496.0,350.0 L1486.0,352.0 L1476.0,345.0 L1466.0,338.0 L1458.0,352.0 L1452.2,383.0 L1446.0,352.0 L1438.0,336.0 L1425.0,345.0 L1410.0,372.0 L1396.0,392.0 L1386.0,400.0 L1392.0,375.0 L1405.0,325.0 L1422.0,294.0 L1438.0,282.0Z" fill="#8d8d8d"/>
</g>
<path d="M1341.1,487.2 L1342.3,484.4 L1343.5,481.7 L1344.7,479.0 L1345.9,476.4 L1347.0,473.8 L1348.2,471.2 L1349.4,468.7 L1350.6,466.2 L1351.8,463.7 L1353.0,461.3 L1354.2,458.8 L1355.4,456.5 L1356.6,454.1 L1357.8,451.7 L1359.0,449.4 L1360.1,447.1 L1361.3,444.8 L1362.5,442.5 L1363.7,440.2 L1364.9,437.9 L1366.1,435.6 L1367.3,433.3 L1368.5,431.0 L1369.7,428.7 L1370.9,426.4 L1372.0,424.1 L1373.2,421.8 L1374.4,419.5 L1375.6,417.1 L1376.8,414.8 L1378.0,412.4 L1379.2,410.0 L1380.4,407.6 L1381.6,405.1 L1382.8,402.7 L1383.9,400.2 L1385.1,397.6 L1386.3,395.0 L1387.5,392.4 L1388.7,389.8 L1389.9,387.1 L1391.1,384.4 L1392.3,381.7 L1393.5,378.9 L1394.7,376.1 L1395.9,373.4 L1397.0,370.6 L1398.2,367.8 L1399.4,365.0 L1400.6,362.2 L1401.8,359.5 L1403.0,356.7 L1404.2,353.9 L1405.4,351.2 L1406.6,348.5 L1407.8,345.8 L1408.9,343.2 L1410.1,340.6 L1411.3,338.0 L1412.5,335.5 L1413.7,332.9 L1414.9,330.5 L1416.1,328.0 L1417.3,325.6 L1418.5,323.2 L1419.7,320.9 L1420.8,318.6 L1422.0,316.3 L1423.2,314.1 L1424.4,311.8 L1425.6,309.7 L1426.8,307.5 L1428.0,305.4 L1429.2,303.3 L1430.4,301.3 L1431.6,299.3 L1432.8,297.4 L1433.9,295.6 L1435.1,293.9 L1436.3,292.2 L1437.5,290.7 L1438.7,289.3 L1439.9,288.0 L1441.1,286.8 L1442.3,285.8 L1443.5,284.9 L1444.7,284.1 L1445.8,283.4 L1447.0,282.8 L1448.2,282.3 L1449.4,281.9 L1450.6,281.6 L1451.8,281.3 L1453.0,281.1 L1454.2,281.0 L1455.4,281.0 L1456.6,281.0 L1457.7,281.1 L1458.9,281.3 L1460.1,281.6 L1461.3,282.0 L1462.5,282.6 L1463.7,283.3 L1464.9,284.1 L1466.1,285.1 L1467.3,286.3 L1468.5,287.6 L1469.7,289.1 L1470.8,290.6 L1472.0,292.4 L1473.2,294.2 L1474.4,296.1 L1475.6,298.0 L1476.8,300.0 L1478.0,302.0 L1479.2,304.1 L1480.4,306.2 L1481.6,308.2 L1482.7,310.3 L1483.9,312.4 L1485.1,314.5 L1486.3,316.8 L1487.5,319.1 L1488.7,321.5 L1489.9,324.0 L1491.1,326.7 L1492.3,329.5 L1493.5,332.5 L1494.6,335.7 L1495.8,339.0 L1497.0,342.5 L1498.2,346.1 L1499.4,349.8 L1500.6,353.6 L1501.8,357.4 L1503.0,361.2 L1504.2,365.1 L1505.4,368.9 L1506.6,372.7 L1507.7,376.5 L1508.9,380.5 L1510.1,384.5 L1511.3,388.6 L1512.5,392.9 L1513.7,397.5 L1514.9,402.2 L1516.1,407.2 L1517.3,412.5 L1518.5,418.0 L1519.6,423.9 L1520.8,430.0 L1522.0,436.3 L1523.2,442.9 L1524.4,449.7 L1525.6,456.8 L1526.8,464.1 L1528.0,471.6 L1529.2,479.3 L1530.4,487.2" fill="none" stroke="#0000ff" stroke-width="5.5" stroke-linejoin="round"/>
<path d="M1340.0,487.2 L1341.2,484.4 L1342.4,481.7 L1343.6,479.0 L1344.8,476.3 L1346.0,473.6 L1347.2,471.0 L1348.4,468.4 L1349.6,465.8 L1350.8,463.2 L1352.0,460.7 L1353.2,458.1 L1354.5,455.6 L1355.7,453.1 L1356.9,450.6 L1358.1,448.1 L1359.3,445.6 L1360.5,443.1 L1361.7,440.7 L1362.9,438.2 L1364.1,435.8 L1365.3,433.3 L1366.5,430.9 L1367.7,428.4 L1368.9,426.0 L1370.1,423.5 L1371.3,421.0 L1372.5,418.6 L1373.7,416.1 L1374.9,413.6 L1376.1,411.1 L1377.3,408.6 L1378.5,406.1 L1379.7,403.5 L1380.9,401.0 L1382.1,398.4 L1383.3,395.8 L1384.6,393.2 L1385.8,390.6 L1387.0,388.0 L1388.2,385.3 L1389.4,382.6 L1390.6,379.9 L1391.8,377.1 L1393.0,374.4 L1394.2,371.6 L1395.4,368.9 L1396.6,366.1 L1397.8,363.3 L1399.0,360.5 L1400.2,357.7 L1401.4,354.8 L1402.6,352.0 L1403.8,349.2 L1405.0,346.4 L1406.2,343.6 L1407.4,340.8 L1408.6,338.0 L1409.8,335.2 L1411.0,332.4 L1412.2,329.7 L1413.5,326.9 L1414.7,324.2 L1415.9,321.5 L1417.1,318.8 L1418.3,316.2 L1419.5,313.6 L1420.7,311.0 L1421.9,308.5 L1423.1,306.1 L1424.3,303.6 L1425.5,301.3 L1426.7,298.9 L1427.9,296.7 L1429.1,294.5 L1430.3,292.4 L1431.5,290.3 L1432.7,288.3 L1433.9,286.4 L1435.1,284.6 L1436.3,282.9 L1437.5,281.3 L1438.7,279.7 L1439.9,278.3 L1441.1,277.0 L1442.3,275.8 L1443.6,274.7 L1444.8,273.6 L1446.0,272.7 L1447.2,271.9 L1448.4,271.2 L1449.6,270.6 L1450.8,270.1 L1452.0,269.7 L1453.2,269.4 L1454.4,269.1 L1455.6,269.0 L1456.8,269.0 L1458.0,269.1 L1459.2,269.4 L1460.4,269.8 L1461.6,270.3 L1462.8,271.1 L1464.0,271.9 L1465.2,273.0 L1466.4,274.2 L1467.6,275.7 L1468.8,277.3 L1470.0,279.1 L1471.2,281.0 L1472.5,283.1 L1473.7,285.3 L1474.9,287.6 L1476.1,289.9 L1477.3,292.3 L1478.5,294.8 L1479.7,297.2 L1480.9,299.7 L1482.1,302.1 L1483.3,304.6 L1484.5,307.1 L1485.7,309.7 L1486.9,312.4 L1488.1,315.1 L1489.3,318.0 L1490.5,320.9 L1491.7,324.0 L1492.9,327.3 L1494.1,330.7 L1495.3,334.3 L1496.5,338.0 L1497.7,341.8 L1498.9,345.8 L1500.1,349.7 L1501.3,353.7 L1502.6,357.7 L1503.8,361.7 L1505.0,365.7 L1506.2,369.6 L1507.4,373.5 L1508.6,377.5 L1509.8,381.5 L1511.0,385.8 L1512.2,390.2 L1513.4,394.8 L1514.6,399.7 L1515.8,404.9 L1517.0,410.5 L1518.2,416.4 L1519.4,422.6 L1520.6,428.9 L1521.8,435.5 L1523.0,442.1 L1524.2,448.8 L1525.4,455.5 L1526.6,462.1 L1527.8,468.6 L1529.0,475.0 L1530.2,481.2 L1531.5,487.2" fill="none" stroke="#ff0000" stroke-width="5.5" stroke-dasharray="17 17"/>
<path d="M1387.5,93.4H1477" stroke="#0000ff" stroke-width="5.6"/>
<path d="M1387.5,125.6H1474" stroke="#ff0000" stroke-width="6" stroke-dasharray="17 17.4"/>
<text x="1483.5" y="103.1" font-size="28" text-anchor="start" fill="#262626" font-weight="normal" font-style="normal" font-family="'DejaVu Sans', 'Liberation Sans', sans-serif" >Bayes</text>
<text x="1484.4" y="136.9" font-size="28" text-anchor="start" fill="#262626" font-weight="normal" font-style="normal" font-family="'DejaVu Sans', 'Liberation Sans', sans-serif" >True</text>
<rect x="1291" y="49.5" width="306" height="480.5" fill="none" stroke="#000" stroke-width="3.2"/>
<path d="M1358.6,49.5v6M1358.6,530v-6M1468.0,49.5v6M1468.0,530v-6M1577.4,49.5v6M1577.4,530v-6M1291,487.2h6M1597,487.2h-6M1291,377.8h6M1597,377.8h-6M1291,268.4h6M1597,268.4h-6M1291,159.0h6M1597,159.0h-6" stroke="#000" stroke-width="3" fill="none"/>
<text x="1358.6" y="573.5" font-size="30.5" text-anchor="middle" fill="#262626" font-weight="normal" font-style="normal" font-family="'DejaVu Sans', 'Liberation Sans', sans-serif" >1.5</text>
<text x="1468.0" y="573.5" font-size="30.5" text-anchor="middle" fill="#262626" font-weight="normal" font-style="normal" font-family="'DejaVu Sans', 'Liberation Sans', sans-serif" >2</text>
<text x="1577.4" y="573.5" font-size="30.5" text-anchor="middle" fill="#262626" font-weight="normal" font-style="normal" font-family="'DejaVu Sans', 'Liberation Sans', sans-serif" >2.5</text>
<text x="1278.5" y="62.6" font-size="30.5" text-anchor="end" fill="#262626" font-weight="normal" font-style="normal" font-family="'DejaVu Sans', 'Liberation Sans', sans-serif" >2</text>
<text x="1278.5" y="172.0" font-size="30.5" text-anchor="end" fill="#262626" font-weight="normal" font-style="normal" font-family="'DejaVu Sans', 'Liberation Sans', sans-serif" >1.5</text>
<text x="1278.5" y="281.4" font-size="30.5" text-anchor="end" fill="#262626" font-weight="normal" font-style="normal" font-family="'DejaVu Sans', 'Liberation Sans', sans-serif" >1</text>
<text x="1278.5" y="390.8" font-size="30.5" text-anchor="end" fill="#262626" font-weight="normal" font-style="normal" font-family="'DejaVu Sans', 'Liberation Sans', sans-serif" >0.5</text>
<text x="1278.5" y="500.2" font-size="30.5" text-anchor="end" fill="#262626" font-weight="normal" font-style="normal" font-family="'DejaVu Sans', 'Liberation Sans', sans-serif" >0</text>
<text x="1445.0" y="615.6" font-size="32.5" text-anchor="middle" fill="#262626" font-weight="normal" font-style="normal" font-family="'DejaVu Sans', 'Liberation Sans', sans-serif" letter-spacing="0.4">minor radius [m]</text>
<text x="1303.0" y="94.0" font-size="50" text-anchor="start" fill="#ff0000" font-weight="bold" font-style="normal" font-family="'Liberation Serif', 'DejaVu Serif', serif" >c</text>
<path d="M1342.7,764.8 L1352.0,768.5 L1360.1,767.9 L1376.2,760.3 L1396.4,751.6 L1406.9,741.1 L1409.8,756.3 L1416.4,777.6 L1434.8,794.9 L1521.1,875.6 L1540.2,875.6 L1540.2,1074.0 L1521.1,1074.0 L1459.6,1134.5 L1427.9,1164.3 L1417.4,1207.6 L1384.9,1162.5 L1335.8,1172.2 L1331.2,1176.5 L1336.2,1171.8 L1349.4,1129.8 L1349.4,1123.9 L1336.0,1064.2 L1336.0,881.5 L1353.2,810.3 L1351.2,791.2 L1342.7,764.8" fill="none" stroke="#000" stroke-width="2" stroke-linejoin="round"/>
<path d="M1310.6,845.2L1390.2,924.9M1525.9,887.5L1465.7,946.8M1325.2,973.6H1384.5M1464.9,973.6H1545.4M1390.2,1023.1L1310.6,1102.7M1465.7,1001.1L1525.9,1060.4" stroke="#000" stroke-width="2.2" fill="none"/>
<path d="M1382.9,811.1 L1384.4,811.9 L1386.3,813.0 L1388.7,814.3 L1391.4,815.8 L1394.3,817.5 L1397.5,819.2 L1401.0,821.1 L1404.9,823.1 L1409.1,825.3 L1413.4,827.6 L1417.7,829.9 L1421.9,832.2 L1426.0,834.5 L1430.0,836.9 L1434.1,839.2 L1438.1,841.7 L1442.1,844.3 L1446.2,846.9 L1450.4,849.7 L1454.6,852.7 L1458.9,855.7 L1463.1,858.8 L1467.0,861.8 L1470.6,864.7 L1473.8,867.4 L1476.6,870.0 L1479.2,872.5 L1481.7,875.1 L1484.2,877.9 L1486.9,881.0 L1489.9,884.4 L1493.0,888.0 L1496.1,891.8 L1499.2,895.8 L1502.1,899.7 L1504.7,903.7 L1507.0,907.7 L1509.2,911.8 L1511.1,916.0 L1512.9,920.1 L1514.6,924.2 L1516.1,928.1 L1517.5,931.8 L1518.8,935.3 L1519.9,938.7 L1520.9,942.0 L1521.8,945.5 L1522.6,949.2 L1523.3,953.2 L1523.9,957.6 L1524.3,962.0 L1524.7,966.3 L1524.9,970.2 L1525.1,973.6 L1525.2,976.2 L1525.1,978.2 L1525.0,979.8 L1524.8,981.3 L1524.5,983.0 L1524.2,985.0 L1523.9,987.3 L1523.5,989.8 L1523.1,992.3 L1522.5,995.1 L1521.8,998.0 L1521.0,1001.1 L1520.0,1004.6 L1518.8,1008.3 L1517.5,1012.3 L1516.0,1016.3 L1514.5,1020.2 L1512.9,1023.9 L1511.2,1027.4 L1509.5,1030.8 L1507.6,1034.1 L1505.7,1037.3 L1503.6,1040.4 L1501.5,1043.4 L1499.3,1046.3 L1496.9,1049.2 L1494.5,1051.9 L1492.0,1054.6 L1489.5,1057.1 L1486.9,1059.6 L1484.3,1062.0 L1481.6,1064.3 L1478.9,1066.5 L1476.1,1068.6 L1473.3,1070.7 L1470.6,1072.6 L1467.9,1074.5 L1465.2,1076.2 L1462.5,1077.9 L1459.8,1079.5 L1457.1,1081.0 L1454.4,1082.4 L1451.7,1083.7 L1449.0,1084.9 L1446.4,1086.1 L1443.7,1087.1 L1440.9,1088.0 L1438.1,1088.9 L1435.2,1089.7 L1432.1,1090.4 L1429.0,1091.0 L1426.0,1091.5 L1423.0,1091.9 L1420.2,1092.1 L1417.6,1092.2 L1415.1,1092.1 L1412.7,1091.9 L1410.3,1091.6 L1408.0,1091.1 L1405.6,1090.5 L1403.2,1089.8 L1400.7,1089.0 L1398.3,1088.1 L1395.9,1086.9 L1393.4,1085.6 L1391.0,1084.0 L1388.5,1082.1 L1386.0,1079.9 L1383.4,1077.5 L1380.9,1074.9 L1378.6,1072.2 L1376.4,1069.4 L1374.5,1066.5 L1372.7,1063.3 L1371.1,1060.1 L1369.6,1056.7 L1368.1,1053.3 L1366.6,1049.9 L1365.1,1046.5 L1363.7,1043.1 L1362.3,1039.6 L1361.0,1036.1 L1359.7,1032.4 L1358.5,1028.7 L1357.3,1024.8 L1356.1,1020.8 L1354.9,1016.8 L1353.9,1012.6 L1352.9,1008.5 L1352.0,1004.4 L1351.2,1000.2 L1350.6,995.9 L1350.0,991.6 L1349.5,987.4 L1349.1,983.5 L1348.7,980.0 L1348.4,977.0 L1348.2,974.5 L1348.0,972.3 L1348.0,970.1 L1347.9,967.7 L1347.9,965.0 L1347.9,961.9 L1348.0,958.7 L1348.0,955.3 L1348.2,951.8 L1348.4,948.1 L1348.7,944.4 L1349.1,940.6 L1349.6,936.7 L1350.1,932.7 L1350.7,928.6 L1351.3,924.4 L1352.0,920.0 L1352.7,915.3 L1353.5,910.2 L1354.4,905.0 L1355.2,899.9 L1356.1,895.1 L1356.9,890.7 L1357.7,886.8 L1358.4,883.4 L1359.2,880.1 L1360.0,877.1 L1360.8,874.1 L1361.7,871.2 L1362.7,868.4 L1363.7,865.9 L1364.7,863.4 L1365.8,860.9 L1367.0,858.1 L1368.2,855.0 L1369.5,851.4 L1370.9,847.3 L1372.3,843.0 L1373.7,838.7 L1375.1,834.5 L1376.4,830.6 L1377.7,826.8 L1378.9,823.0 L1380.2,819.3 L1381.3,816.0 L1382.2,813.2 L1382.9,811.1" fill="none" stroke="#0000ff" stroke-width="5.5" stroke-linejoin="miter"/>
<path d="M1382.9,811.1 L1384.4,811.9 L1386.3,813.0 L1388.7,814.3 L1391.4,815.8 L1394.3,817.5 L1397.5,819.2 L1401.0,821.1 L1404.9,823.1 L1409.1,825.3 L1413.4,827.6 L1417.7,829.9 L1421.9,832.2 L1426.0,834.5 L1430.0,836.9 L1434.1,839.2 L1438.1,841.7 L1442.1,844.3 L1446.2,846.9 L1450.4,849.7 L1454.6,852.7 L1458.9,855.7 L1463.1,858.8 L1467.0,861.8 L1470.6,864.7 L1473.8,867.4 L1476.6,870.0 L1479.2,872.5 L1481.7,875.1 L1484.2,877.9 L1486.9,881.0 L1489.9,884.4 L1493.0,888.0 L1496.1,891.8 L1499.2,895.8 L1502.1,899.7 L1504.7,903.7 L1507.0,907.7 L1509.2,911.8 L1511.1,916.0 L1512.9,920.1 L1514.6,924.2 L1516.1,928.1 L1517.5,931.8 L1518.8,935.3 L1519.9,938.7 L1520.9,942.0 L1521.8,945.5 L1522.6,949.2 L1523.3,953.2 L1523.9,957.6 L1524.3,962.0 L1524.7,966.3 L1524.9,970.2 L1525.1,973.6 L1525.2,976.2 L1525.1,978.2 L1525.0,979.8 L1524.8,981.3 L1524.5,983.0 L1524.2,985.0 L1523.9,987.3 L1523.5,989.8 L1523.1,992.3 L1522.5,995.1 L1521.8,998.0 L1521.0,1001.1 L1520.0,1004.6 L1518.8,1008.3 L1517.5,1012.3 L1516.0,1016.3 L1514.5,1020.2 L1512.9,1023.9 L1511.2,1027.4 L1509.5,1030.8 L1507.6,1034.1 L1505.7,1037.3 L1503.6,1040.4 L1501.5,1043.4 L1499.3,1046.3 L1496.9,1049.2 L1494.5,1051.9 L1492.0,1054.6 L1489.5,1057.1 L1486.9,1059.6 L1484.3,1062.0 L1481.6,1064.3 L1478.9,1066.5 L1476.1,1068.6 L1473.3,1070.7 L1470.6,1072.6 L1467.9,1074.5 L1465.2,1076.2 L1462.5,1077.9 L1459.8,1079.5 L1457.1,1081.0 L1454.4,1082.4 L1451.7,1083.7 L1449.0,1084.9 L1446.4,1086.1 L1443.7,1087.1 L1440.9,1088.0 L1438.1,1088.9 L1435.2,1089.7 L1432.1,1090.4 L1429.0,1091.0 L1426.0,1091.5 L1423.0,1091.9 L1420.2,1092.1 L1417.6,1092.2 L1415.1,1092.1 L1412.7,1091.9 L1410.3,1091.6 L1408.0,1091.1 L1405.6,1090.5 L1403.2,1089.8 L1400.7,1089.0 L1398.3,1088.1 L1395.9,1086.9 L1393.4,1085.6 L1391.0,1084.0 L1388.5,1082.1 L1386.0,1079.9 L1383.4,1077.5 L1380.9,1074.9 L1378.6,1072.2 L1376.4,1069.4 L1374.5,1066.5 L1372.7,1063.3 L1371.1,1060.1 L1369.6,1056.7 L1368.1,1053.3 L1366.6,1049.9 L1365.1,1046.5 L1363.7,1043.1 L1362.3,1039.6 L1361.0,1036.1 L1359.7,1032.4 L1358.5,1028.7 L1357.3,1024.8 L1356.1,1020.8 L1354.9,1016.8 L1353.9,1012.6 L1352.9,1008.5 L1352.0,1004.4 L1351.2,1000.2 L1350.6,995.9 L1350.0,991.6 L1349.5,987.4 L1349.1,983.5 L1348.7,980.0 L1348.4,977.0 L1348.2,974.5 L1348.0,972.3 L1348.0,970.1 L1347.9,967.7 L1347.9,965.0 L1347.9,961.9 L1348.0,958.7 L1348.0,955.3 L1348.2,951.8 L1348.4,948.1 L1348.7,944.4 L1349.1,940.6 L1349.6,936.7 L1350.1,932.7 L1350.7,928.6 L1351.3,924.4 L1352.0,920.0 L1352.7,915.3 L1353.5,910.2 L1354.4,905.0 L1355.2,899.9 L1356.1,895.1 L1356.9,890.7 L1357.7,886.8 L1358.4,883.4 L1359.2,880.1 L1360.0,877.1 L1360.8,874.1 L1361.7,871.2 L1362.7,868.4 L1363.7,865.9 L1364.7,863.4 L1365.8,860.9 L1367.0,858.1 L1368.2,855.0 L1369.5,851.4 L1370.9,847.3 L1372.3,843.0 L1373.7,838.7 L1375.1,834.5 L1376.4,830.6 L1377.7,826.8 L1378.9,823.0 L1380.2,819.3 L1381.3,816.0 L1382.2,813.2 L1382.9,811.1" fill="none" stroke="#ff0000" stroke-width="5.5" stroke-dasharray="17 17" stroke-dashoffset="6"/>
<circle cx="1440" cy="1088" r="7.5" fill="#1ee01e"/>
<path d="M1433,1089.5L1447,1086" stroke="#0000ff" stroke-width="4.5"/>
<text x="1366.0" y="895.6" font-size="28" text-anchor="start" fill="#262626" font-weight="normal" font-style="normal" font-family="'DejaVu Sans', 'Liberation Sans', sans-serif" >C3</text>
<text x="1456.2" y="915.1" font-size="28" text-anchor="start" fill="#262626" font-weight="normal" font-style="normal" font-family="'DejaVu Sans', 'Liberation Sans', sans-serif" >C2</text>
<text x="1359.5" y="963.9" font-size="28" text-anchor="start" fill="#262626" font-weight="normal" font-style="normal" font-family="'DejaVu Sans', 'Liberation Sans', sans-serif" >C4</text>
<text x="1479.5" y="963.9" font-size="28" text-anchor="start" fill="#262626" font-weight="normal" font-style="normal" font-family="'DejaVu Sans', 'Liberation Sans', sans-serif" >C1</text>
<text x="1368.5" y="1064.5" font-size="28" text-anchor="start" fill="#262626" font-weight="normal" font-style="normal" font-family="'DejaVu Sans', 'Liberation Sans', sans-serif" >C5</text>
<text x="1456.2" y="1054.7" font-size="28" text-anchor="start" fill="#262626" font-weight="normal" font-style="normal" font-family="'DejaVu Sans', 'Liberation Sans', sans-serif" >C6</text>
<text x="1383.5" y="847.7" font-size="28" font-family="'DejaVu Sans', 'Liberation Sans', sans-serif" fill="#262626">X<tspan x="1403.5" y="860.7" font-size="21">U</tspan></text>
<path d="M1377,776H1465" stroke="#0000ff" stroke-width="5.6"/>
<path d="M1377,809H1463" stroke="#ff0000" stroke-width="6" stroke-dasharray="17 17.4"/>
<text x="1472.5" y="786.0" font-size="28" text-anchor="start" fill="#262626" font-weight="normal" font-style="normal" font-family="'DejaVu Sans', 'Liberation Sans', sans-serif" >Bayes</text>
<text x="1475.0" y="819.5" font-size="28" text-anchor="start" fill="#262626" font-weight="normal" font-style="normal" font-family="'DejaVu Sans', 'Liberation Sans', sans-serif" >True</text>
<rect x="1304" y="729.8" width="281.5999999999999" height="487.70000000000005" fill="none" stroke="#000" stroke-width="3.2"/>
<path d="M1364.1,729.8v6M1364.1,1217.5v-6M1465.1,729.8v6M1465.1,1217.5v-6M1566.1,729.8v6M1566.1,1217.5v-6M1304,1176.9h6M1585.6,1176.9h-6M1304,1075.4h6M1585.6,1075.4h-6M1304,973.9h6M1585.6,973.9h-6M1304,872.4h6M1585.6,872.4h-6M1304,770.9h6M1585.6,770.9h-6" stroke="#000" stroke-width="3" fill="none"/>
<text x="1364.1" y="1256.5" font-size="30.5" text-anchor="middle" fill="#262626" font-weight="normal" font-style="normal" font-family="'DejaVu Sans', 'Liberation Sans', sans-serif" >1.5</text>
<text x="1465.1" y="1256.5" font-size="30.5" text-anchor="middle" fill="#262626" font-weight="normal" font-style="normal" font-family="'DejaVu Sans', 'Liberation Sans', sans-serif" >2</text>
<text x="1566.1" y="1256.5" font-size="30.5" text-anchor="middle" fill="#262626" font-weight="normal" font-style="normal" font-family="'DejaVu Sans', 'Liberation Sans', sans-serif" >2.5</text>
<text x="1291.5" y="783.9" font-size="30.5" text-anchor="end" fill="#262626" font-weight="normal" font-style="normal" font-family="'DejaVu Sans', 'Liberation Sans', sans-serif" >1</text>
<text x="1291.5" y="885.4" font-size="30.5" text-anchor="end" fill="#262626" font-weight="normal" font-style="normal" font-family="'DejaVu Sans', 'Liberation Sans', sans-serif" >0.5</text>
<text x="1291.5" y="986.9" font-size="30.5" text-anchor="end" fill="#262626" font-weight="normal" font-style="normal" font-family="'DejaVu Sans', 'Liberation Sans', sans-serif" >0</text>
<text x="1291.5" y="1088.4" font-size="30.5" text-anchor="end" fill="#262626" font-weight="normal" font-style="normal" font-family="'DejaVu Sans', 'Liberation Sans', sans-serif" >-0.5</text>
<text x="1291.5" y="1189.9" font-size="30.5" text-anchor="end" fill="#262626" font-weight="normal" font-style="normal" font-family="'DejaVu Sans', 'Liberation Sans', sans-serif" >-1</text>
<text x="1445.0" y="1300.0" font-size="33" text-anchor="middle" fill="#262626" font-weight="normal" font-style="normal" font-family="'DejaVu Sans', 'Liberation Sans', sans-serif" letter-spacing="0.6">R [m]</text>
<text x="1218.0" y="973.9" font-size="33" text-anchor="middle" fill="#262626" font-weight="normal" font-style="normal" font-family="'DejaVu Sans', 'Liberation Sans', sans-serif" letter-spacing="0.6" transform="rotate(-90 1218 973.9)">Z [m]</text>
<text x="1445.0" y="717.6" font-size="33" text-anchor="middle" fill="#000" font-weight="bold" font-style="normal" font-family="'DejaVu Sans', 'Liberation Sans', sans-serif" >Boundary</text>
<text x="1311.0" y="783.0" font-size="50" text-anchor="start" fill="#ff0000" font-weight="bold" font-style="normal" font-family="'Liberation Serif', 'DejaVu Serif', serif" >f</text>
<text y="34.5" font-size="33" font-family="'DejaVu Sans', 'Liberation Sans', sans-serif" fill="#262626"><tspan x="791" font-family="'Liberation Serif', 'DejaVu Serif', serif" font-style="italic" font-size="31.5" fill="#000">ξ</tspan><tspan x="808.5" y="17.9" font-size="25" font-weight="bold" font-style="italic" fill="#000">I</tspan><tspan x="830.5" y="34.2">[%]</tspan></text>
<text y="718.6" font-size="33" font-family="'DejaVu Sans', 'Liberation Sans', sans-serif" fill="#000" font-weight="bold"><tspan x="783" font-family="'Liberation Serif', 'DejaVu Serif', serif" font-style="italic" font-weight="normal">ξ</tspan><tspan x="799.4" y="701.9" font-size="29" font-family="'Liberation Serif', 'DejaVu Serif', serif" font-style="italic" font-weight="normal">ψ</tspan><tspan x="830" y="717">[%]</tspan></text>
<text y="33.75" font-size="33" font-family="'DejaVu Sans', 'Liberation Sans', sans-serif" fill="#262626"><tspan x="1366.5" font-weight="bold" font-style="italic" fill="#000">j</tspan><tspan x="1387">[MA/m</tspan><tspan x="1495" y="19" font-size="23">2</tspan><tspan x="1511" y="33.75">]</tspan></text>
<g transform="translate(1199.5,378) rotate(-90)"><text y="0" font-size="32.5" font-family="'DejaVu Sans', 'Liberation Sans', sans-serif" fill="#262626"><tspan x="2">j</tspan><tspan x="15" y="8" font-size="22" font-family="'DejaVu Serif', 'Liberation Serif', serif" font-style="italic">φ</tspan><tspan x="38" y="0" letter-spacing="0.4">[MA/m</tspan><tspan x="146" y="-14" font-size="24">2</tspan><tspan x="164.5" y="0">]</tspan></text></g></svg>
</body></html>
